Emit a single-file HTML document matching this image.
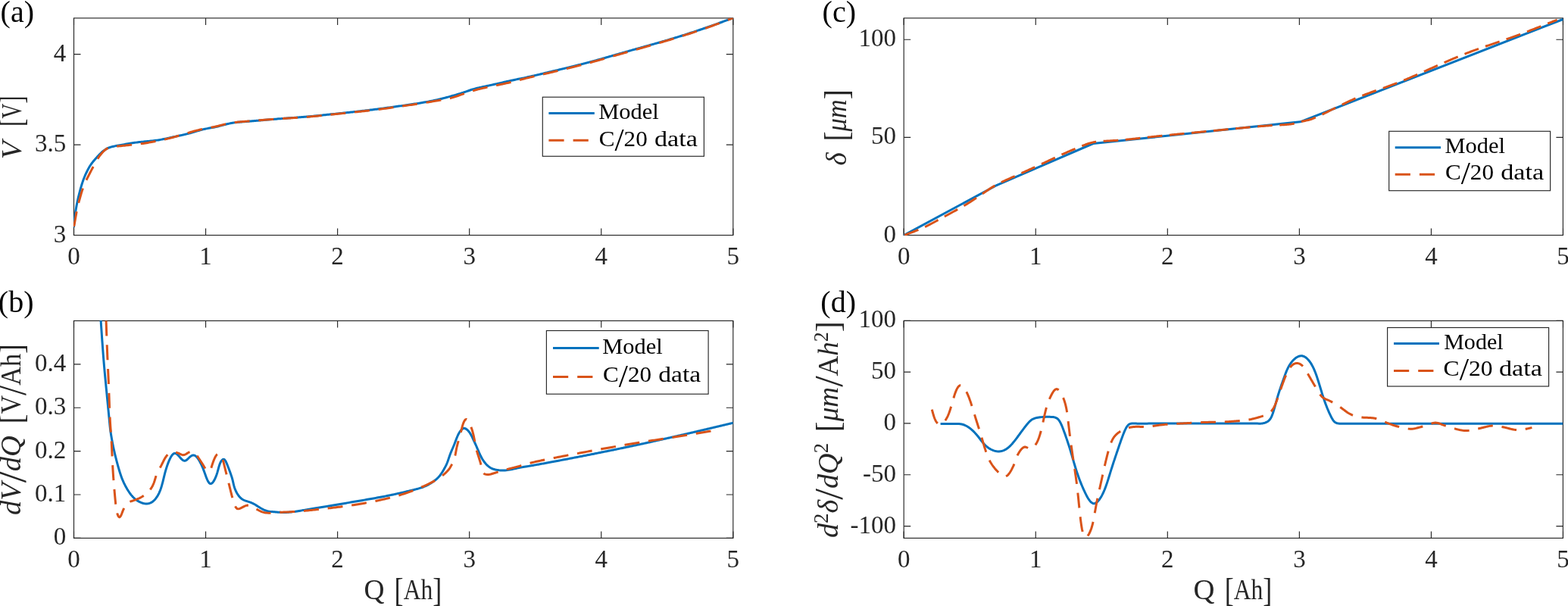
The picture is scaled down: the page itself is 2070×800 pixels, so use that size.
<!DOCTYPE html>
<html><head><meta charset="utf-8"><style>
html,body{margin:0;padding:0;background:#fff;}
svg{display:block;}
text{font-family:'Liberation Serif', 'DejaVu Serif', serif;}
</style></head><body>
<svg width="2070" height="800" viewBox="0 0 2070 800">
<rect width="2070" height="800" fill="#fff"/>
<path d="M97.50,310.50V301.50M97.50,23.90V32.90M271.56,310.50V301.50M271.56,23.90V32.90M445.62,310.50V301.50M445.62,23.90V32.90M619.68,310.50V301.50M619.68,23.90V32.90M793.74,310.50V301.50M793.74,23.90V32.90M967.80,310.50V301.50M967.80,23.90V32.90M97.50,310.50H106.50M967.80,310.50H958.80M97.50,191.08H106.50M967.80,191.08H958.80M97.50,71.67H106.50M967.80,71.67H958.80" stroke="#262626" stroke-width="1.15" fill="none"/>
<rect x="97.5" y="23.9" width="870.3" height="286.6" fill="none" stroke="#262626" stroke-width="1.15"/>
<clipPath id="ca"><rect x="97.0" y="23.4" width="871.3" height="287.6"/></clipPath>
<g clip-path="url(#ca)" fill="none" stroke-width="3.0" stroke-linejoin="round">
<path d="M97.40,300.00 L97.56,298.39 L97.71,296.78 L97.87,295.17 L98.03,293.56 L98.19,291.96 L98.36,290.37 L98.53,288.78 L98.71,287.21 L98.90,285.64 L99.09,284.08 L99.29,282.53 L99.50,281.00 L99.72,279.45 L99.96,277.91 L100.20,276.38 L100.46,274.87 L100.72,273.37 L100.99,271.87 L101.28,270.39 L101.57,268.91 L101.87,267.43 L102.18,265.97 L102.50,264.50 L102.85,262.96 L103.20,261.41 L103.56,259.88 L103.93,258.36 L104.31,256.84 L104.69,255.34 L105.08,253.85 L105.47,252.38 L105.86,250.93 L106.25,249.50 L106.69,247.91 L107.14,246.36 L107.59,244.82 L108.05,243.31 L108.52,241.83 L109.00,240.37 L109.49,238.92 L110.00,237.50 L110.58,235.97 L111.17,234.45 L111.79,232.95 L112.43,231.46 L113.10,229.97 L113.79,228.49 L114.50,227.00 L115.16,225.66 L115.84,224.31 L116.55,222.98 L117.28,221.65 L118.04,220.33 L118.83,219.03 L119.65,217.75 L120.50,216.50 L121.50,215.13 L122.53,213.79 L123.60,212.49 L124.69,211.21 L125.79,209.95 L126.89,208.72 L128.00,207.50 L129.05,206.35 L130.09,205.22 L131.14,204.12 L132.20,203.03 L133.27,201.98 L134.37,200.97 L135.50,200.00 L136.85,198.94 L138.25,197.94 L139.71,197.02 L141.23,196.18 L142.83,195.42 L144.50,194.75 L145.84,194.30 L147.22,193.89 L148.65,193.53 L150.12,193.19 L151.63,192.89 L153.17,192.59 L154.75,192.31 L156.36,192.03 L158.00,191.75 L159.52,191.48 L161.06,191.20 L162.62,190.92 L164.18,190.63 L165.75,190.34 L167.32,190.06 L168.89,189.77 L170.44,189.50 L171.98,189.24 L173.50,188.99 L175.00,188.75 L176.51,188.53 L178.01,188.32 L179.48,188.12 L180.95,187.94 L182.42,187.77 L183.89,187.61 L185.38,187.45 L186.89,187.30 L188.43,187.15 L190.00,187.00 L191.50,186.86 L193.04,186.71 L194.60,186.56 L196.17,186.41 L197.77,186.25 L199.37,186.08 L200.97,185.91 L202.56,185.73 L204.15,185.54 L205.73,185.34 L207.28,185.12 L208.80,184.90 L210.38,184.65 L211.94,184.39 L213.47,184.11 L215.00,183.82 L216.53,183.51 L218.07,183.19 L219.64,182.86 L221.23,182.51 L222.87,182.15 L224.55,181.78 L226.30,181.40 L227.74,181.09 L229.21,180.77 L230.72,180.44 L232.26,180.10 L233.82,179.76 L235.40,179.41 L236.99,179.06 L238.59,178.70 L240.20,178.34 L241.80,177.97 L243.39,177.60 L244.97,177.22 L246.53,176.84 L248.07,176.46 L249.58,176.08 L251.06,175.69 L252.50,175.30 L254.23,174.81 L255.90,174.33 L257.52,173.85 L259.09,173.37 L260.62,172.91 L262.11,172.46 L263.58,172.02 L265.02,171.60 L266.45,171.21 L267.88,170.84 L269.30,170.50 L270.79,170.18 L272.30,169.88 L273.81,169.60 L275.33,169.34 L276.87,169.07 L278.42,168.81 L279.99,168.54 L281.57,168.25 L283.18,167.94 L284.80,167.60 L286.22,167.28 L287.65,166.93 L289.10,166.56 L290.56,166.17 L292.03,165.78 L293.52,165.38 L295.01,164.98 L296.51,164.58 L298.02,164.19 L299.53,163.82 L301.05,163.45 L302.57,163.11 L304.10,162.80 L305.53,162.53 L306.97,162.29 L308.42,162.07 L309.88,161.86 L311.34,161.68 L312.83,161.51 L314.33,161.35 L315.85,161.21 L317.39,161.07 L318.97,160.94 L320.56,160.81 L322.19,160.69 L323.86,160.56 L325.56,160.43 L327.30,160.30 L328.67,160.19 L330.07,160.08 L331.49,159.96 L332.93,159.84 L334.39,159.72 L335.87,159.59 L337.37,159.46 L338.89,159.33 L340.42,159.20 L341.96,159.06 L343.52,158.92 L345.08,158.78 L346.66,158.64 L348.24,158.50 L349.84,158.36 L351.44,158.22 L353.04,158.08 L354.65,157.94 L356.26,157.80 L357.87,157.66 L359.48,157.53 L361.09,157.39 L362.70,157.26 L364.30,157.13 L365.90,157.00 L367.49,156.87 L369.08,156.75 L370.66,156.63 L372.24,156.51 L373.81,156.40 L375.37,156.28 L376.94,156.17 L378.49,156.06 L380.05,155.95 L381.59,155.84 L383.14,155.73 L384.68,155.62 L386.22,155.51 L387.76,155.40 L389.30,155.29 L390.83,155.18 L392.36,155.06 L393.89,154.95 L395.42,154.84 L396.95,154.72 L398.48,154.60 L400.01,154.48 L401.54,154.36 L403.07,154.23 L404.60,154.10 L406.13,153.97 L407.66,153.83 L409.20,153.69 L410.73,153.55 L412.27,153.41 L413.81,153.26 L415.35,153.11 L416.89,152.96 L418.43,152.81 L419.97,152.65 L421.51,152.50 L423.05,152.34 L424.60,152.18 L426.14,152.02 L427.69,151.86 L429.24,151.69 L430.79,151.53 L432.34,151.36 L433.89,151.20 L435.44,151.03 L436.99,150.86 L438.54,150.70 L440.09,150.53 L441.65,150.37 L443.20,150.20 L444.76,150.03 L446.32,149.87 L447.87,149.70 L449.43,149.54 L450.99,149.37 L452.55,149.21 L454.11,149.05 L455.66,148.88 L457.22,148.72 L458.78,148.55 L460.33,148.39 L461.89,148.22 L463.44,148.05 L464.99,147.89 L466.54,147.72 L468.09,147.55 L469.63,147.38 L471.17,147.22 L472.72,147.04 L474.25,146.87 L475.79,146.70 L477.32,146.53 L478.85,146.35 L480.38,146.18 L481.90,146.00 L483.42,145.82 L484.94,145.64 L486.45,145.46 L487.96,145.28 L489.47,145.09 L490.99,144.91 L492.50,144.72 L494.01,144.53 L495.52,144.34 L497.04,144.14 L498.56,143.95 L500.08,143.75 L501.61,143.55 L503.14,143.35 L504.68,143.15 L506.22,142.94 L507.77,142.74 L509.33,142.53 L510.90,142.32 L512.47,142.10 L514.06,141.89 L515.65,141.67 L517.26,141.45 L518.87,141.23 L520.50,141.00 L522.10,140.78 L523.70,140.55 L525.32,140.33 L526.94,140.10 L528.57,139.87 L530.19,139.64 L531.82,139.41 L533.44,139.18 L535.06,138.95 L536.68,138.71 L538.28,138.48 L539.88,138.25 L541.46,138.02 L543.03,137.78 L544.58,137.55 L546.12,137.32 L547.63,137.09 L549.12,136.86 L550.59,136.63 L552.03,136.41 L553.44,136.18 L554.82,135.96 L556.17,135.74 L557.48,135.53 L558.76,135.31 L560.00,135.10 L561.87,134.77 L563.65,134.45 L565.35,134.14 L566.99,133.82 L568.56,133.51 L570.09,133.20 L571.58,132.89 L573.05,132.58 L574.50,132.26 L575.95,131.93 L577.40,131.60 L578.88,131.26 L580.38,130.90 L581.89,130.54 L583.43,130.17 L584.98,129.78 L586.56,129.39 L588.16,128.98 L589.79,128.55 L591.43,128.12 L593.10,127.67 L594.80,127.20 L596.38,126.76 L597.98,126.30 L599.58,125.84 L601.16,125.38 L602.73,124.92 L604.26,124.46 L605.75,124.01 L607.19,123.57 L608.57,123.15 L609.87,122.74 L611.08,122.36 L612.20,122.00 L613.91,121.44 L615.39,120.93 L616.72,120.46 L618.00,120.00 L619.30,119.52 L620.68,119.03 L622.16,118.52 L623.80,118.00 L625.23,117.58 L626.77,117.16 L628.40,116.75 L630.09,116.33 L631.83,115.91 L633.61,115.50 L635.40,115.10 L636.79,114.79 L638.20,114.48 L639.62,114.17 L641.07,113.86 L642.55,113.54 L644.09,113.21 L645.68,112.86 L647.33,112.50 L649.07,112.13 L650.89,111.73 L652.80,111.30 L654.33,110.96 L655.91,110.60 L657.54,110.23 L659.19,109.86 L660.87,109.48 L662.56,109.09 L664.24,108.71 L665.92,108.32 L667.58,107.95 L669.21,107.58 L670.81,107.22 L672.35,106.87 L673.83,106.54 L675.24,106.22 L676.58,105.93 L677.82,105.66 L678.97,105.42 L680.00,105.20 L681.69,104.86 L683.12,104.60 L684.49,104.35 L685.99,104.06 L687.80,103.70 L688.63,103.53 L689.53,103.34 L690.50,103.13 L691.54,102.90 L692.65,102.66 L693.81,102.40 L695.04,102.12 L696.32,101.84 L697.65,101.53 L699.03,101.22 L700.46,100.89 L701.93,100.56 L703.44,100.21 L704.98,99.85 L706.57,99.48 L708.18,99.11 L709.82,98.73 L711.48,98.34 L713.17,97.94 L714.87,97.54 L716.60,97.14 L718.33,96.73 L720.07,96.32 L721.82,95.90 L723.58,95.49 L725.33,95.07 L727.08,94.65 L728.83,94.24 L730.57,93.82 L732.29,93.41 L734.01,93.00 L735.70,92.60 L737.38,92.20 L739.03,91.80 L740.67,91.41 L742.29,91.02 L743.89,90.64 L745.47,90.25 L747.04,89.87 L748.59,89.50 L750.13,89.12 L751.66,88.75 L753.17,88.38 L754.67,88.01 L756.17,87.65 L757.65,87.28 L759.12,86.92 L760.58,86.55 L762.04,86.19 L763.48,85.83 L764.93,85.46 L766.36,85.10 L767.80,84.73 L769.22,84.37 L770.65,84.00 L772.08,83.63 L773.50,83.26 L774.92,82.89 L776.35,82.52 L777.77,82.14 L779.20,81.76 L780.63,81.38 L782.06,80.99 L783.50,80.60 L784.91,80.22 L786.32,79.83 L787.74,79.44 L789.16,79.05 L790.58,78.65 L792.01,78.25 L793.45,77.85 L794.88,77.45 L796.32,77.04 L797.77,76.63 L799.22,76.22 L800.67,75.81 L802.12,75.39 L803.57,74.98 L805.03,74.56 L806.49,74.14 L807.95,73.72 L809.41,73.30 L810.88,72.88 L812.34,72.46 L813.81,72.04 L815.28,71.62 L816.74,71.19 L818.21,70.77 L819.68,70.35 L821.15,69.93 L822.61,69.51 L824.08,69.09 L825.55,68.67 L827.01,68.25 L828.48,67.83 L829.94,67.41 L831.40,67.00 L832.86,66.59 L834.31,66.18 L835.77,65.77 L837.22,65.36 L838.67,64.95 L840.12,64.55 L841.57,64.14 L843.02,63.74 L844.47,63.33 L845.91,62.93 L847.36,62.53 L848.80,62.13 L850.25,61.72 L851.69,61.32 L853.14,60.92 L854.58,60.52 L856.02,60.11 L857.47,59.71 L858.91,59.31 L860.35,58.90 L861.80,58.49 L863.24,58.09 L864.69,57.68 L866.13,57.27 L867.58,56.86 L869.03,56.44 L870.48,56.03 L871.93,55.61 L873.38,55.20 L874.83,54.78 L876.29,54.35 L877.74,53.93 L879.20,53.50 L880.67,53.07 L882.14,52.63 L883.61,52.19 L885.08,51.75 L886.55,51.31 L888.02,50.87 L889.50,50.42 L890.97,49.97 L892.44,49.52 L893.92,49.07 L895.39,48.61 L896.86,48.16 L898.33,47.70 L899.80,47.24 L901.26,46.78 L902.73,46.31 L904.19,45.85 L905.65,45.38 L907.11,44.92 L908.57,44.45 L910.02,43.98 L911.46,43.51 L912.91,43.04 L914.35,42.57 L915.79,42.09 L917.22,41.62 L918.65,41.15 L920.07,40.67 L921.49,40.20 L922.90,39.72 L924.30,39.25 L925.71,38.78 L927.10,38.30 L928.61,37.78 L930.12,37.26 L931.62,36.75 L933.11,36.23 L934.60,35.71 L936.08,35.19 L937.55,34.67 L939.02,34.16 L940.48,33.64 L941.94,33.12 L943.39,32.60 L944.84,32.08 L946.28,31.57 L947.72,31.05 L949.16,30.53 L950.59,30.01 L952.02,29.50 L953.44,28.98 L954.87,28.46 L956.29,27.94 L957.71,27.42 L959.12,26.91 L960.54,26.39 L961.95,25.87 L963.37,25.35 L964.78,24.84 L966.19,24.32 L967.60,23.80" stroke="#0072BD"/>
<path d="M97.60,299.00 L97.86,297.70 L98.13,296.32 L98.43,294.78 L98.75,293.00 L98.97,291.78 L99.19,290.46 L99.44,289.06 L99.69,287.58 L99.96,286.05 L100.24,284.47 L100.53,282.87 L100.82,281.26 L101.12,279.65 L101.43,278.06 L101.75,276.50 L102.09,274.90 L102.43,273.35 L102.78,271.84 L103.14,270.35 L103.51,268.88 L103.89,267.42 L104.27,265.96 L104.67,264.50 L105.08,263.01 L105.50,261.50 L105.92,260.02 L106.35,258.51 L106.79,256.98 L107.25,255.44 L107.71,253.90 L108.19,252.36 L108.68,250.84 L109.18,249.33 L109.69,247.85 L110.22,246.40 L110.75,245.00 L111.35,243.50 L111.96,242.06 L112.59,240.64 L113.24,239.25 L113.90,237.87 L114.58,236.50 L115.28,235.11 L116.00,233.70 L116.75,232.25 L117.45,230.88 L118.18,229.48 L118.91,228.05 L119.66,226.61 L120.42,225.15 L121.18,223.68 L121.95,222.22 L122.72,220.76 L123.49,219.32 L124.25,217.90 L125.00,216.50 L125.81,215.02 L126.62,213.57 L127.42,212.17 L128.23,210.80 L129.04,209.47 L129.87,208.17 L130.72,206.91 L131.60,205.69 L132.50,204.50 L133.55,203.22 L134.62,201.98 L135.72,200.81 L136.81,199.72 L137.90,198.71 L138.97,197.80 L140.00,197.00 L141.36,196.08 L142.74,195.35 L144.25,194.77 L146.00,194.30 L147.22,194.05 L148.54,193.82 L149.96,193.62 L151.46,193.43 L153.01,193.25 L154.60,193.09 L156.21,192.94 L157.83,192.79 L159.43,192.64 L161.00,192.50 L162.63,192.34 L164.22,192.19 L165.78,192.03 L167.31,191.86 L168.83,191.70 L170.34,191.53 L171.87,191.35 L173.42,191.18 L175.00,191.00 L176.51,190.83 L178.05,190.66 L179.60,190.48 L181.16,190.31 L182.71,190.13 L184.25,189.94 L185.76,189.76 L187.22,189.57 L188.64,189.39 L190.00,189.20 L191.75,188.94 L193.40,188.68 L195.01,188.40 L196.62,188.12 L198.27,187.82 L200.00,187.50 L201.33,187.26 L202.72,187.00 L204.17,186.73 L205.68,186.45 L207.24,186.15 L208.85,185.84 L210.50,185.51 L212.20,185.16 L213.93,184.79 L215.70,184.41 L217.50,184.00 L219.04,183.64 L220.59,183.27 L222.15,182.89 L223.72,182.49 L225.29,182.09 L226.86,181.68 L228.43,181.26 L229.99,180.84 L231.53,180.41 L233.06,179.99 L234.57,179.56 L236.05,179.14 L237.50,178.72 L238.92,178.31 L240.30,177.90 L241.92,177.42 L243.49,176.94 L245.01,176.48 L246.49,176.03 L247.94,175.59 L249.37,175.16 L250.78,174.73 L252.19,174.31 L253.59,173.90 L255.00,173.50 L256.55,173.07 L258.11,172.64 L259.68,172.23 L261.27,171.83 L262.86,171.43 L264.46,171.05 L266.07,170.69 L267.68,170.34 L269.30,170.00 L270.81,169.70 L272.32,169.41 L273.84,169.13 L275.36,168.85 L276.89,168.57 L278.44,168.29 L280.00,167.99 L281.58,167.68 L283.18,167.35 L284.80,167.00 L286.21,166.68 L287.65,166.34 L289.09,165.98 L290.55,165.62 L292.02,165.25 L293.51,164.88 L295.00,164.51 L296.50,164.15 L298.01,163.79 L299.53,163.44 L301.05,163.11 L302.57,162.79 L304.10,162.50 L305.54,162.25 L306.98,162.01 L308.43,161.80 L309.88,161.60 L311.35,161.42 L312.83,161.25 L314.34,161.09 L315.86,160.94 L317.40,160.79 L318.97,160.66 L320.57,160.53 L322.20,160.40 L323.86,160.27 L325.56,160.13 L327.30,160.00 L328.67,159.89 L330.07,159.78 L331.49,159.67 L332.93,159.56 L334.39,159.44 L335.87,159.32 L337.37,159.20 L338.88,159.08 L340.41,158.95 L341.95,158.83 L343.51,158.70 L345.08,158.58 L346.65,158.45 L348.24,158.33 L349.83,158.20 L351.43,158.08 L353.04,157.95 L354.65,157.83 L356.26,157.70 L357.87,157.58 L359.48,157.46 L361.09,157.34 L362.70,157.23 L364.30,157.11 L365.90,157.00 L367.49,156.89 L369.08,156.78 L370.66,156.68 L372.24,156.58 L373.81,156.47 L375.38,156.37 L376.94,156.27 L378.50,156.18 L380.05,156.08 L381.60,155.98 L383.15,155.89 L384.69,155.79 L386.23,155.69 L387.77,155.59 L389.30,155.49 L390.84,155.39 L392.37,155.29 L393.90,155.19 L395.43,155.08 L396.96,154.98 L398.49,154.87 L400.01,154.75 L401.54,154.64 L403.07,154.52 L404.60,154.40 L406.13,154.27 L407.66,154.15 L409.19,154.01 L410.73,153.88 L412.26,153.74 L413.80,153.60 L415.34,153.46 L416.87,153.31 L418.41,153.16 L419.95,153.01 L421.49,152.86 L423.04,152.70 L424.58,152.55 L426.13,152.39 L427.67,152.23 L429.22,152.07 L430.77,151.91 L432.32,151.75 L433.87,151.58 L435.42,151.42 L436.97,151.26 L438.53,151.09 L440.08,150.93 L441.64,150.76 L443.20,150.60 L444.76,150.44 L446.33,150.27 L447.89,150.11 L449.45,149.95 L451.02,149.79 L452.58,149.62 L454.15,149.46 L455.71,149.30 L457.27,149.14 L458.84,148.97 L460.40,148.81 L461.95,148.65 L463.51,148.49 L465.06,148.32 L466.61,148.16 L468.16,148.00 L469.70,147.83 L471.24,147.67 L472.78,147.50 L474.31,147.34 L475.84,147.17 L477.36,147.01 L478.88,146.84 L480.39,146.67 L481.90,146.50 L483.40,146.33 L484.90,146.16 L486.39,145.99 L487.88,145.81 L489.37,145.64 L490.85,145.46 L492.34,145.28 L493.83,145.10 L495.33,144.92 L496.82,144.73 L498.33,144.55 L499.83,144.36 L501.35,144.16 L502.87,143.97 L504.41,143.77 L505.95,143.57 L507.50,143.37 L509.07,143.16 L510.65,142.95 L512.25,142.73 L513.87,142.51 L515.50,142.29 L517.14,142.07 L518.81,141.83 L520.50,141.60 L522.02,141.39 L523.56,141.17 L525.11,140.95 L526.68,140.73 L528.25,140.50 L529.84,140.28 L531.43,140.05 L533.02,139.81 L534.62,139.58 L536.23,139.35 L537.83,139.11 L539.43,138.87 L541.03,138.64 L542.63,138.40 L544.22,138.16 L545.80,137.92 L547.37,137.68 L548.93,137.45 L550.48,137.21 L552.02,136.97 L553.54,136.74 L555.04,136.50 L556.52,136.27 L557.98,136.04 L559.42,135.81 L560.84,135.59 L562.23,135.36 L563.59,135.14 L564.93,134.93 L566.23,134.71 L567.50,134.50 L569.40,134.18 L571.22,133.87 L572.97,133.57 L574.65,133.28 L576.26,132.99 L577.81,132.71 L579.30,132.45 L580.73,132.19 L582.12,131.93 L583.45,131.69 L584.74,131.45 L585.99,131.22 L587.20,131.00 L588.88,130.69 L590.51,130.39 L592.12,130.07 L593.73,129.72 L595.37,129.34 L597.05,128.90 L598.80,128.40 L600.35,127.92 L601.95,127.39 L603.56,126.83 L605.17,126.27 L606.74,125.71 L608.25,125.16 L609.68,124.66 L611.01,124.20 L612.20,123.80 L614.05,123.25 L615.68,122.80 L617.40,122.30 L618.55,121.93 L619.82,121.49 L621.21,121.01 L622.70,120.49 L624.30,119.95 L625.99,119.39 L627.76,118.84 L629.60,118.30 L631.14,117.88 L632.71,117.48 L634.30,117.09 L635.91,116.71 L637.52,116.36 L639.12,116.01 L640.71,115.68 L642.28,115.36 L643.81,115.05 L645.30,114.76 L646.73,114.47 L648.10,114.20 L649.68,113.88 L651.18,113.57 L652.63,113.26 L654.07,112.95 L655.53,112.63 L657.03,112.31 L658.61,111.96 L660.30,111.60 L661.78,111.28 L663.34,110.95 L664.95,110.61 L666.60,110.25 L668.27,109.89 L669.93,109.53 L671.58,109.18 L673.18,108.82 L674.72,108.47 L676.19,108.13 L677.55,107.81 L678.80,107.50 L680.35,107.10 L681.73,106.71 L683.06,106.33 L684.44,105.93 L685.99,105.49 L687.80,105.00 L688.69,104.77 L689.64,104.52 L690.66,104.26 L691.74,103.99 L692.88,103.71 L694.08,103.41 L695.33,103.11 L696.63,102.80 L697.97,102.47 L699.36,102.14 L700.80,101.80 L702.27,101.45 L703.78,101.09 L705.32,100.73 L706.89,100.36 L708.50,99.98 L710.12,99.60 L711.77,99.22 L713.44,98.83 L715.13,98.43 L716.83,98.04 L718.54,97.64 L720.27,97.23 L721.99,96.83 L723.72,96.42 L725.46,96.02 L727.19,95.61 L728.91,95.21 L730.63,94.80 L732.33,94.40 L734.02,94.00 L735.70,93.60 L737.36,93.20 L739.00,92.81 L740.62,92.42 L742.23,92.03 L743.82,91.65 L745.40,91.26 L746.96,90.88 L748.51,90.50 L750.04,90.12 L751.57,89.74 L753.08,89.37 L754.58,88.99 L756.07,88.62 L757.55,88.24 L759.03,87.87 L760.49,87.50 L761.95,87.12 L763.40,86.75 L764.85,86.37 L766.29,86.00 L767.73,85.63 L769.16,85.25 L770.60,84.87 L772.03,84.49 L773.46,84.11 L774.89,83.73 L776.32,83.35 L777.75,82.96 L779.18,82.58 L780.62,82.19 L782.06,81.80 L783.50,81.40 L784.91,81.01 L786.33,80.62 L787.75,80.23 L789.17,79.83 L790.60,79.44 L792.03,79.04 L793.47,78.63 L794.91,78.23 L796.35,77.82 L797.79,77.42 L799.24,77.01 L800.69,76.60 L802.15,76.18 L803.60,75.77 L805.06,75.36 L806.52,74.94 L807.98,74.52 L809.44,74.10 L810.90,73.68 L812.37,73.27 L813.83,72.85 L815.30,72.42 L816.76,72.00 L818.23,71.58 L819.69,71.16 L821.16,70.74 L822.63,70.32 L824.09,69.90 L825.56,69.48 L827.02,69.06 L828.48,68.64 L829.94,68.22 L831.40,67.80 L832.86,67.38 L834.31,66.97 L835.77,66.55 L837.22,66.14 L838.67,65.72 L840.12,65.31 L841.57,64.89 L843.01,64.48 L844.46,64.07 L845.91,63.65 L847.35,63.24 L848.80,62.83 L850.24,62.41 L851.68,62.00 L853.13,61.59 L854.57,61.17 L856.01,60.76 L857.46,60.34 L858.90,59.93 L860.35,59.51 L861.79,59.09 L863.24,58.67 L864.68,58.26 L866.13,57.84 L867.58,57.42 L869.02,56.99 L870.47,56.57 L871.92,56.15 L873.38,55.72 L874.83,55.29 L876.29,54.86 L877.74,54.43 L879.20,54.00 L880.67,53.56 L882.14,53.13 L883.61,52.69 L885.08,52.24 L886.55,51.80 L888.02,51.36 L889.50,50.91 L890.97,50.46 L892.44,50.01 L893.92,49.56 L895.39,49.11 L896.86,48.65 L898.33,48.20 L899.80,47.74 L901.27,47.28 L902.73,46.82 L904.20,46.36 L905.66,45.89 L907.11,45.43 L908.57,44.96 L910.02,44.50 L911.47,44.03 L912.91,43.56 L914.35,43.09 L915.79,42.61 L917.22,42.14 L918.65,41.67 L920.07,41.19 L921.49,40.72 L922.90,40.24 L924.31,39.76 L925.71,39.28 L927.10,38.80 L928.62,38.27 L930.12,37.75 L931.62,37.22 L933.12,36.69 L934.60,36.16 L936.08,35.63 L937.56,35.10 L939.03,34.56 L940.49,34.03 L941.95,33.50 L943.40,32.96 L944.85,32.43 L946.29,31.89 L947.73,31.35 L949.17,30.82 L950.60,30.28 L952.03,29.74 L953.45,29.20 L954.87,28.66 L956.30,28.12 L957.71,27.58 L959.13,27.04 L960.54,26.50 L961.96,25.96 L963.37,25.42 L964.78,24.88 L966.19,24.34 L967.60,23.80" stroke="#D95319" stroke-dasharray="20 11.8"/>
</g>
<text x="97.50" y="348.90" text-anchor="middle" font-size="33" fill="#262626">0</text>
<text x="271.56" y="348.90" text-anchor="middle" font-size="33" fill="#262626">1</text>
<text x="445.62" y="348.90" text-anchor="middle" font-size="33" fill="#262626">2</text>
<text x="619.68" y="348.90" text-anchor="middle" font-size="33" fill="#262626">3</text>
<text x="793.74" y="348.90" text-anchor="middle" font-size="33" fill="#262626">4</text>
<text x="967.80" y="348.90" text-anchor="middle" font-size="33" fill="#262626">5</text>
<text x="87.30" y="319.50" text-anchor="end" font-size="33" fill="#262626">3</text>
<text x="87.30" y="200.08" text-anchor="end" font-size="33" fill="#262626">3.5</text>
<text x="87.30" y="80.67" text-anchor="end" font-size="33" fill="#262626">4</text>
<rect x="716.3" y="128.2" width="213.10000000000002" height="78.10000000000002" fill="#fff" stroke="#262626" stroke-width="1.15"/>
<path d="M724.4,149.4H784.8" stroke="#0072BD" stroke-width="3.0"/>
<path d="M724.4,185.3H744.6M756.6,185.3H776.8" stroke="#D95319" stroke-width="3.0"/>
<text x="790.25" y="156.90" font-size="29.5" fill="#000" textLength="79.50" lengthAdjust="spacingAndGlyphs">Model</text>
<text x="790.70" y="192.50" font-size="29.5" fill="#000" textLength="64.05" lengthAdjust="spacingAndGlyphs">C<tspan font-size="41.5" dy="6.1">/</tspan><tspan dy="-6.1">20</tspan></text>
<text x="864.00" y="192.50" font-size="29.5" fill="#000" textLength="57.00" lengthAdjust="spacingAndGlyphs">data</text>
<path d="M1193.20,310.50V301.50M1193.20,23.90V32.90M1367.26,310.50V301.50M1367.26,23.90V32.90M1541.32,310.50V301.50M1541.32,23.90V32.90M1715.38,310.50V301.50M1715.38,23.90V32.90M1889.44,310.50V301.50M1889.44,23.90V32.90M2063.50,310.50V301.50M2063.50,23.90V32.90M1193.20,310.50H1202.20M2063.40,310.50H2054.40M1193.20,181.38H1202.20M2063.40,181.38H2054.40M1193.20,52.25H1202.20M2063.40,52.25H2054.40" stroke="#262626" stroke-width="1.15" fill="none"/>
<rect x="1193.2" y="23.9" width="870.2" height="286.6" fill="none" stroke="#262626" stroke-width="1.15"/>
<clipPath id="cc"><rect x="1192.7" y="23.4" width="871.2" height="287.6"/></clipPath>
<g clip-path="url(#cc)" fill="none" stroke-width="3.0" stroke-linejoin="round">
<path d="M1193.20,310.60 L1314.50,245.20 L1396.60,209.70 L1443.10,189.50 L1520.00,181.50 L1716.60,160.80 L2063.30,25.50" stroke="#0072BD"/>
<path d="M1194.00,310.40 L1195.48,309.84 L1196.96,309.29 L1198.43,308.73 L1199.89,308.18 L1201.35,307.63 L1202.79,307.09 L1204.21,306.55 L1205.62,306.02 L1207.00,305.50 L1208.39,304.97 L1209.77,304.45 L1211.16,303.91 L1212.57,303.35 L1214.01,302.76 L1215.49,302.13 L1217.05,301.45 L1218.68,300.71 L1220.40,299.90 L1221.54,299.35 L1222.72,298.77 L1223.94,298.16 L1225.19,297.52 L1226.47,296.86 L1227.79,296.17 L1229.13,295.47 L1230.50,294.75 L1231.89,294.01 L1233.30,293.25 L1234.72,292.48 L1236.16,291.70 L1237.61,290.91 L1239.08,290.12 L1240.54,289.31 L1242.02,288.51 L1243.49,287.70 L1244.97,286.89 L1246.44,286.09 L1247.90,285.28 L1249.36,284.49 L1250.80,283.70 L1252.18,282.95 L1253.54,282.21 L1254.90,281.47 L1256.24,280.74 L1257.58,280.01 L1258.91,279.29 L1260.23,278.57 L1261.54,277.85 L1262.85,277.13 L1264.15,276.41 L1265.45,275.68 L1266.75,274.96 L1268.05,274.22 L1269.34,273.49 L1270.64,272.74 L1271.93,271.99 L1273.23,271.23 L1274.53,270.46 L1275.83,269.67 L1277.14,268.88 L1278.45,268.07 L1279.77,267.24 L1281.10,266.40 L1282.41,265.56 L1283.72,264.71 L1285.04,263.84 L1286.37,262.96 L1287.69,262.07 L1289.02,261.18 L1290.35,260.28 L1291.67,259.38 L1292.99,258.48 L1294.31,257.58 L1295.62,256.69 L1296.92,255.80 L1298.22,254.91 L1299.51,254.03 L1300.78,253.17 L1302.04,252.32 L1303.29,251.48 L1304.52,250.66 L1305.73,249.86 L1306.93,249.08 L1308.10,248.32 L1309.26,247.59 L1310.39,246.88 L1311.50,246.20 L1312.86,245.39 L1314.19,244.62 L1315.50,243.88 L1316.79,243.18 L1318.06,242.51 L1319.33,241.86 L1320.61,241.22 L1321.90,240.60 L1323.20,239.98 L1324.53,239.36 L1325.89,238.74 L1327.29,238.11 L1328.74,237.46 L1330.24,236.79 L1331.80,236.10 L1332.97,235.58 L1334.18,235.04 L1335.42,234.49 L1336.69,233.93 L1337.98,233.35 L1339.31,232.76 L1340.65,232.16 L1342.02,231.55 L1343.41,230.92 L1344.82,230.29 L1346.24,229.66 L1347.67,229.01 L1349.12,228.36 L1350.58,227.70 L1352.05,227.04 L1353.52,226.38 L1355.00,225.71 L1356.47,225.04 L1357.95,224.37 L1359.43,223.70 L1360.90,223.03 L1362.37,222.36 L1363.83,221.70 L1365.28,221.04 L1366.71,220.38 L1368.13,219.72 L1369.54,219.08 L1370.93,218.43 L1372.30,217.80 L1373.84,217.09 L1375.35,216.38 L1376.84,215.69 L1378.30,215.00 L1379.74,214.32 L1381.17,213.66 L1382.57,213.00 L1383.96,212.34 L1385.33,211.70 L1386.69,211.06 L1388.03,210.42 L1389.37,209.80 L1390.70,209.17 L1392.03,208.55 L1393.35,207.94 L1394.66,207.33 L1395.98,206.72 L1397.29,206.11 L1398.61,205.51 L1399.94,204.90 L1401.26,204.30 L1402.60,203.70 L1404.04,203.05 L1405.49,202.41 L1406.95,201.77 L1408.41,201.13 L1409.87,200.49 L1411.33,199.86 L1412.78,199.23 L1414.23,198.61 L1415.67,198.00 L1417.10,197.40 L1418.51,196.80 L1419.90,196.22 L1421.28,195.65 L1422.64,195.09 L1423.97,194.54 L1425.27,194.01 L1426.55,193.49 L1427.79,192.99 L1429.00,192.50 L1430.55,191.88 L1432.05,191.30 L1433.51,190.74 L1434.95,190.22 L1436.36,189.73 L1437.77,189.28 L1439.19,188.85 L1440.63,188.46 L1442.11,188.11 L1443.63,187.79 L1445.20,187.50 L1446.49,187.30 L1447.82,187.11 L1449.20,186.95 L1450.61,186.80 L1452.06,186.67 L1453.54,186.54 L1455.05,186.43 L1456.60,186.33 L1458.18,186.23 L1459.79,186.14 L1461.42,186.06 L1463.08,185.97 L1464.77,185.89 L1466.48,185.80 L1468.20,185.71 L1469.95,185.62 L1471.72,185.51 L1473.50,185.40 L1474.84,185.31 L1476.18,185.21 L1477.54,185.11 L1478.90,185.00 L1480.28,184.89 L1481.66,184.77 L1483.05,184.65 L1484.45,184.52 L1485.86,184.39 L1487.29,184.25 L1488.72,184.11 L1490.16,183.96 L1491.62,183.81 L1493.09,183.66 L1494.56,183.50 L1496.05,183.35 L1497.56,183.18 L1499.07,183.02 L1500.60,182.85 L1502.14,182.68 L1503.69,182.51 L1505.26,182.33 L1506.84,182.16 L1508.43,181.98 L1510.04,181.80 L1511.66,181.62 L1513.30,181.44 L1514.95,181.25 L1516.62,181.07 L1518.30,180.88 L1520.00,180.70 L1521.31,180.56 L1522.63,180.42 L1523.96,180.28 L1525.30,180.13 L1526.65,179.99 L1528.00,179.85 L1529.37,179.71 L1530.74,179.57 L1532.12,179.42 L1533.51,179.28 L1534.91,179.14 L1536.31,178.99 L1537.73,178.85 L1539.15,178.71 L1540.58,178.56 L1542.02,178.42 L1543.46,178.28 L1544.92,178.13 L1546.38,177.99 L1547.84,177.84 L1549.32,177.70 L1550.80,177.55 L1552.29,177.40 L1553.78,177.26 L1555.29,177.11 L1556.80,176.96 L1558.31,176.81 L1559.84,176.67 L1561.36,176.52 L1562.90,176.37 L1564.44,176.22 L1565.99,176.07 L1567.54,175.92 L1569.10,175.77 L1570.66,175.62 L1572.24,175.47 L1573.81,175.31 L1575.39,175.16 L1576.98,175.01 L1578.57,174.85 L1580.17,174.70 L1581.77,174.54 L1583.38,174.39 L1584.99,174.23 L1586.61,174.08 L1588.23,173.92 L1589.86,173.76 L1591.49,173.60 L1593.12,173.44 L1594.76,173.28 L1596.40,173.12 L1598.05,172.96 L1599.70,172.80 L1601.36,172.64 L1603.02,172.47 L1604.69,172.31 L1606.36,172.14 L1608.03,171.98 L1609.70,171.81 L1611.37,171.65 L1613.04,171.48 L1614.72,171.32 L1616.39,171.15 L1618.06,170.99 L1619.73,170.82 L1621.39,170.66 L1623.05,170.49 L1624.71,170.33 L1626.37,170.17 L1628.02,170.01 L1629.66,169.85 L1631.30,169.69 L1632.94,169.53 L1634.56,169.37 L1636.18,169.21 L1637.79,169.06 L1639.40,168.90 L1640.99,168.75 L1642.58,168.60 L1644.16,168.45 L1645.72,168.31 L1647.28,168.16 L1648.82,168.02 L1650.35,167.88 L1651.87,167.74 L1653.38,167.60 L1654.87,167.47 L1656.35,167.34 L1657.82,167.21 L1659.27,167.08 L1660.70,166.96 L1662.12,166.84 L1663.52,166.72 L1664.90,166.60 L1666.27,166.49 L1667.62,166.38 L1668.95,166.28 L1670.26,166.18 L1671.55,166.08 L1672.83,165.99 L1674.08,165.89 L1675.31,165.81 L1676.51,165.72 L1677.70,165.65 L1678.86,165.57 L1680.00,165.50 L1681.96,165.38 L1683.85,165.28 L1685.67,165.18 L1687.43,165.10 L1689.13,165.01 L1690.77,164.93 L1692.35,164.85 L1693.89,164.76 L1695.37,164.67 L1696.82,164.57 L1698.22,164.47 L1699.59,164.35 L1700.92,164.21 L1702.23,164.07 L1703.51,163.90 L1704.76,163.71 L1706.00,163.50 L1707.71,163.16 L1709.39,162.79 L1711.03,162.38 L1712.63,161.96 L1714.20,161.54 L1715.72,161.12 L1717.19,160.71 L1718.62,160.34 L1720.00,160.00 L1721.42,159.69 L1722.81,159.41 L1724.21,159.13 L1725.65,158.82 L1727.16,158.46 L1728.79,158.03 L1730.56,157.48 L1732.50,156.80 L1733.42,156.45 L1734.37,156.08 L1735.36,155.67 L1736.39,155.24 L1737.45,154.78 L1738.55,154.29 L1739.68,153.79 L1740.84,153.25 L1742.04,152.70 L1743.26,152.13 L1744.51,151.53 L1745.78,150.92 L1747.08,150.29 L1748.41,149.64 L1749.76,148.98 L1751.13,148.31 L1752.52,147.62 L1753.93,146.92 L1755.35,146.21 L1756.80,145.49 L1758.25,144.77 L1759.73,144.03 L1761.21,143.29 L1762.71,142.55 L1764.22,141.80 L1765.73,141.05 L1767.26,140.30 L1768.79,139.55 L1770.32,138.80 L1771.86,138.05 L1773.41,137.30 L1774.95,136.56 L1776.49,135.83 L1778.04,135.10 L1779.58,134.38 L1781.12,133.67 L1782.65,132.97 L1784.18,132.28 L1785.70,131.60 L1787.26,130.91 L1788.82,130.24 L1790.37,129.58 L1791.90,128.94 L1793.43,128.30 L1794.96,127.68 L1796.47,127.08 L1797.97,126.48 L1799.47,125.89 L1800.96,125.31 L1802.44,124.74 L1803.92,124.19 L1805.39,123.64 L1806.85,123.09 L1808.30,122.56 L1809.75,122.03 L1811.19,121.51 L1812.62,121.00 L1814.05,120.49 L1815.47,119.98 L1816.88,119.48 L1818.29,118.99 L1819.69,118.50 L1821.09,118.01 L1822.48,117.52 L1823.87,117.04 L1825.25,116.55 L1826.62,116.07 L1828.00,115.59 L1829.36,115.11 L1830.72,114.63 L1832.08,114.15 L1833.43,113.66 L1834.78,113.18 L1836.12,112.69 L1837.46,112.20 L1838.80,111.70 L1840.20,111.17 L1841.61,110.64 L1843.00,110.11 L1844.40,109.57 L1845.79,109.02 L1847.18,108.48 L1848.57,107.92 L1849.95,107.37 L1851.34,106.81 L1852.72,106.24 L1854.10,105.67 L1855.48,105.10 L1856.87,104.52 L1858.25,103.94 L1859.63,103.36 L1861.01,102.77 L1862.40,102.18 L1863.79,101.58 L1865.17,100.98 L1866.56,100.38 L1867.96,99.77 L1869.35,99.16 L1870.75,98.54 L1872.16,97.92 L1873.56,97.30 L1874.97,96.67 L1876.39,96.05 L1877.81,95.41 L1879.24,94.78 L1880.67,94.14 L1882.11,93.50 L1883.55,92.85 L1885.00,92.20 L1886.35,91.60 L1887.70,90.99 L1889.05,90.38 L1890.42,89.78 L1891.78,89.16 L1893.16,88.55 L1894.53,87.94 L1895.92,87.32 L1897.30,86.70 L1898.69,86.09 L1900.09,85.47 L1901.49,84.85 L1902.89,84.23 L1904.29,83.61 L1905.70,82.99 L1907.11,82.38 L1908.53,81.76 L1909.95,81.14 L1911.37,80.53 L1912.79,79.91 L1914.21,79.30 L1915.64,78.69 L1917.07,78.08 L1918.50,77.48 L1919.93,76.87 L1921.36,76.27 L1922.79,75.67 L1924.23,75.08 L1925.66,74.49 L1927.10,73.90 L1928.53,73.32 L1929.97,72.73 L1931.40,72.16 L1932.84,71.59 L1934.27,71.02 L1935.70,70.46 L1937.14,69.90 L1938.57,69.35 L1940.00,68.80 L1941.45,68.25 L1942.89,67.71 L1944.34,67.17 L1945.78,66.64 L1947.23,66.11 L1948.67,65.59 L1950.11,65.07 L1951.55,64.55 L1952.99,64.04 L1954.43,63.53 L1955.87,63.03 L1957.31,62.53 L1958.75,62.03 L1960.19,61.53 L1961.63,61.04 L1963.06,60.54 L1964.50,60.05 L1965.94,59.56 L1967.38,59.07 L1968.83,58.58 L1970.27,58.09 L1971.71,57.61 L1973.15,57.12 L1974.60,56.63 L1976.04,56.14 L1977.49,55.65 L1978.94,55.16 L1980.39,54.67 L1981.84,54.17 L1983.29,53.68 L1984.75,53.18 L1986.21,52.68 L1987.67,52.17 L1989.13,51.66 L1990.59,51.15 L1992.06,50.64 L1993.53,50.12 L1995.00,49.60 L1996.38,49.11 L1997.75,48.61 L1999.13,48.12 L2000.52,47.61 L2001.90,47.11 L2003.29,46.60 L2004.68,46.09 L2006.07,45.57 L2007.46,45.05 L2008.86,44.53 L2010.26,44.01 L2011.65,43.48 L2013.05,42.95 L2014.46,42.42 L2015.86,41.88 L2017.27,41.34 L2018.67,40.80 L2020.08,40.26 L2021.49,39.72 L2022.90,39.17 L2024.31,38.62 L2025.73,38.07 L2027.14,37.51 L2028.56,36.96 L2029.98,36.40 L2031.39,35.85 L2032.81,35.29 L2034.23,34.73 L2035.65,34.16 L2037.07,33.60 L2038.50,33.03 L2039.92,32.47 L2041.34,31.90 L2042.77,31.33 L2044.19,30.77 L2045.62,30.20 L2047.04,29.63 L2048.47,29.06 L2049.89,28.49 L2051.32,27.91 L2052.75,27.34 L2054.17,26.77 L2055.60,26.20" stroke="#D95319" stroke-dasharray="19.7 9.5"/>
</g>
<text x="1193.20" y="348.90" text-anchor="middle" font-size="33" fill="#262626">0</text>
<text x="1367.26" y="348.90" text-anchor="middle" font-size="33" fill="#262626">1</text>
<text x="1541.32" y="348.90" text-anchor="middle" font-size="33" fill="#262626">2</text>
<text x="1715.38" y="348.90" text-anchor="middle" font-size="33" fill="#262626">3</text>
<text x="1889.44" y="348.90" text-anchor="middle" font-size="33" fill="#262626">4</text>
<text x="2063.50" y="348.90" text-anchor="middle" font-size="33" fill="#262626">5</text>
<text x="1183.00" y="319.50" text-anchor="end" font-size="33" fill="#262626">0</text>
<text x="1183.00" y="190.38" text-anchor="end" font-size="33" fill="#262626">50</text>
<text x="1183.00" y="61.25" text-anchor="end" font-size="33" fill="#262626">100</text>
<rect x="1833.7" y="173.3" width="212.89999999999986" height="78.39999999999998" fill="#fff" stroke="#262626" stroke-width="1.15"/>
<path d="M1841.7,194.7H1902.0" stroke="#0072BD" stroke-width="3.0"/>
<path d="M1841.7,230.3H1861.9M1873.9,230.3H1894.1000000000001" stroke="#D95319" stroke-width="3.0"/>
<text x="1907.45" y="201.80" font-size="29.5" fill="#000" textLength="79.50" lengthAdjust="spacingAndGlyphs">Model</text>
<text x="1907.90" y="236.90" font-size="29.5" fill="#000" textLength="64.05" lengthAdjust="spacingAndGlyphs">C<tspan font-size="41.5" dy="6.1">/</tspan><tspan dy="-6.1">20</tspan></text>
<text x="1981.20" y="236.90" font-size="29.5" fill="#000" textLength="57.00" lengthAdjust="spacingAndGlyphs">data</text>
<path d="M97.50,710.40V701.40M97.50,423.50V432.50M271.56,710.40V701.40M271.56,423.50V432.50M445.62,710.40V701.40M445.62,423.50V432.50M619.68,710.40V701.40M619.68,423.50V432.50M793.74,710.40V701.40M793.74,423.50V432.50M967.80,710.40V701.40M967.80,423.50V432.50M97.50,710.40H106.50M967.80,710.40H958.80M97.50,653.02H106.50M967.80,653.02H958.80M97.50,595.64H106.50M967.80,595.64H958.80M97.50,538.26H106.50M967.80,538.26H958.80M97.50,480.88H106.50M967.80,480.88H958.80" stroke="#262626" stroke-width="1.15" fill="none"/>
<rect x="97.5" y="423.5" width="870.3" height="286.9" fill="none" stroke="#262626" stroke-width="1.15"/>
<clipPath id="cb"><rect x="97.0" y="423.0" width="871.3" height="287.9"/></clipPath>
<g clip-path="url(#cb)" fill="none" stroke-width="3.0" stroke-linejoin="round">
<path d="M133.10,423.20 L133.21,424.82 L133.32,426.44 L133.43,428.05 L133.53,429.67 L133.64,431.28 L133.75,432.89 L133.86,434.50 L133.97,436.11 L134.08,437.71 L134.19,439.31 L134.30,440.90 L134.40,442.49 L134.51,444.07 L134.62,445.65 L134.73,447.22 L134.84,448.78 L134.95,450.34 L135.06,451.89 L135.17,453.43 L135.28,454.96 L135.39,456.48 L135.50,458.00 L135.61,459.50 L135.72,460.99 L135.83,462.47 L135.94,463.94 L136.05,465.40 L136.16,466.85 L136.27,468.28 L136.38,469.70 L136.49,471.11 L136.60,472.50 L136.73,474.06 L136.85,475.60 L136.98,477.13 L137.11,478.64 L137.23,480.15 L137.36,481.64 L137.49,483.13 L137.62,484.61 L137.75,486.09 L137.89,487.57 L138.02,489.05 L138.15,490.54 L138.29,492.03 L138.43,493.52 L138.57,495.03 L138.71,496.54 L138.86,498.07 L139.00,499.61 L139.15,501.17 L139.30,502.75 L139.46,504.35 L139.61,505.98 L139.77,507.62 L139.94,509.30 L140.10,511.00 L140.25,512.57 L140.41,514.16 L140.56,515.77 L140.72,517.40 L140.88,519.04 L141.04,520.69 L141.20,522.36 L141.36,524.02 L141.52,525.69 L141.69,527.36 L141.85,529.03 L142.01,530.69 L142.17,532.35 L142.33,533.99 L142.49,535.62 L142.64,537.23 L142.80,538.82 L142.95,540.39 L143.10,541.94 L143.24,543.46 L143.39,544.95 L143.53,546.40 L143.67,547.82 L143.80,549.20 L143.93,550.54 L144.05,551.83 L144.17,553.07 L144.29,554.27 L144.40,555.41 L144.50,556.50 L144.68,558.33 L144.84,560.00 L144.99,561.55 L145.14,563.00 L145.29,564.39 L145.44,565.75 L145.61,567.12 L145.79,568.52 L146.00,570.00 L146.19,571.29 L146.40,572.64 L146.62,574.06 L146.86,575.53 L147.12,577.04 L147.39,578.60 L147.67,580.20 L147.97,581.83 L148.28,583.49 L148.60,585.17 L148.94,586.87 L149.28,588.58 L149.64,590.29 L150.00,592.00 L150.34,593.57 L150.69,595.14 L151.05,596.70 L151.41,598.25 L151.77,599.79 L152.14,601.33 L152.52,602.86 L152.90,604.37 L153.28,605.87 L153.66,607.37 L154.05,608.84 L154.44,610.31 L154.83,611.75 L155.22,613.19 L155.61,614.60 L156.00,616.00 L156.46,617.61 L156.91,619.19 L157.37,620.76 L157.84,622.30 L158.31,623.82 L158.79,625.32 L159.29,626.80 L159.80,628.27 L160.32,629.72 L160.86,631.16 L161.42,632.59 L162.00,634.00 L162.62,635.45 L163.27,636.89 L163.95,638.31 L164.64,639.71 L165.35,641.10 L166.09,642.48 L166.84,643.83 L167.61,645.16 L168.39,646.46 L169.19,647.74 L170.00,649.00 L170.94,650.40 L171.91,651.76 L172.91,653.08 L173.95,654.36 L175.04,655.59 L176.18,656.77 L177.38,657.90 L178.65,658.98 L180.00,660.00 L181.43,660.96 L182.93,661.85 L184.48,662.66 L186.07,663.37 L187.68,663.97 L189.30,664.44 L190.90,664.78 L192.47,664.97 L194.00,665.00 L195.64,664.83 L197.20,664.46 L198.69,663.89 L200.12,663.15 L201.48,662.25 L202.77,661.19 L204.00,660.00 L204.99,658.90 L205.93,657.72 L206.84,656.47 L207.70,655.14 L208.52,653.75 L209.30,652.29 L210.04,650.79 L210.73,649.23 L211.39,647.64 L212.00,646.00 L212.47,644.63 L212.92,643.25 L213.35,641.84 L213.76,640.42 L214.15,638.98 L214.53,637.53 L214.91,636.06 L215.27,634.58 L215.63,633.09 L216.00,631.58 L216.36,630.07 L216.73,628.55 L217.11,627.03 L217.50,625.50 L217.91,623.97 L218.33,622.43 L218.76,620.90 L219.21,619.38 L219.67,617.87 L220.15,616.37 L220.64,614.89 L221.15,613.44 L221.67,612.01 L222.21,610.61 L222.76,609.25 L223.33,607.92 L223.91,606.64 L224.50,605.40 L225.44,603.60 L226.42,601.97 L227.42,600.58 L228.46,599.48 L229.52,598.73 L230.60,598.40 L231.79,598.55 L233.01,599.15 L234.24,600.11 L235.49,601.34 L236.75,602.75 L238.13,604.37 L239.53,605.91 L240.93,607.20 L242.33,608.09 L243.75,608.40 L245.15,608.03 L246.56,607.13 L247.96,605.90 L249.36,604.52 L250.75,603.20 L252.18,602.06 L253.60,601.26 L255.01,600.89 L256.40,601.00 L257.56,601.52 L258.71,602.37 L259.84,603.51 L260.93,604.87 L261.99,606.38 L263.00,608.00 L263.70,609.21 L264.38,610.45 L265.04,611.73 L265.68,613.04 L266.31,614.39 L266.92,615.80 L267.53,617.25 L268.14,618.77 L268.75,620.36 L269.37,622.02 L270.00,623.75 L270.63,625.54 L271.28,627.36 L271.95,629.19 L272.63,630.96 L273.32,632.65 L274.04,634.22 L274.77,635.60 L275.52,636.78 L276.29,637.70 L277.09,638.32 L277.90,638.60 L278.82,638.48 L279.76,637.95 L280.70,637.06 L281.64,635.86 L282.55,634.42 L283.43,632.78 L284.26,631.00 L285.04,629.14 L285.75,627.25 L286.34,625.52 L286.87,623.83 L287.35,622.16 L287.80,620.53 L288.23,618.94 L288.65,617.40 L289.07,615.91 L289.50,614.49 L289.96,613.12 L290.46,611.82 L291.00,610.60 L292.00,608.79 L293.11,607.36 L294.26,606.46 L295.40,606.25 L296.33,606.71 L297.22,607.70 L298.08,609.11 L298.92,610.87 L299.76,612.86 L300.60,615.00 L301.17,616.48 L301.75,617.98 L302.33,619.48 L302.90,620.99 L303.45,622.50 L304.00,624.00 L304.53,625.48 L305.03,626.95 L305.51,628.39 L305.96,629.80 L306.38,631.17 L306.75,632.50 L307.19,634.21 L307.58,635.84 L307.93,637.42 L308.28,638.96 L308.64,640.47 L309.04,641.98 L309.50,643.50 L310.05,645.07 L310.68,646.64 L311.38,648.21 L312.15,649.75 L312.97,651.24 L313.84,652.66 L314.75,654.00 L315.72,655.27 L316.73,656.43 L317.81,657.48 L318.95,658.42 L320.18,659.27 L321.50,660.00 L322.86,660.61 L324.29,661.15 L325.79,661.64 L327.32,662.13 L328.89,662.62 L330.45,663.15 L332.00,663.75 L333.39,664.37 L334.75,665.05 L336.09,665.78 L337.40,666.55 L338.70,667.35 L339.98,668.15 L341.25,668.96 L342.50,669.75 L344.01,670.68 L345.51,671.55 L347.01,672.35 L348.50,673.08 L350.00,673.72 L351.50,674.25 L353.00,674.67 L354.53,674.99 L356.11,675.24 L357.74,675.44 L359.45,675.60 L361.25,675.75 L362.60,675.86 L363.99,675.97 L365.44,676.08 L366.92,676.18 L368.44,676.27 L370.00,676.35 L371.58,676.41 L373.19,676.45 L374.81,676.46 L376.45,676.45 L378.10,676.40 L379.59,676.33 L381.08,676.23 L382.59,676.11 L384.10,675.96 L385.62,675.79 L387.15,675.60 L388.70,675.39 L390.26,675.17 L391.84,674.94 L393.43,674.69 L395.04,674.43 L396.67,674.16 L398.33,673.88 L400.00,673.60 L401.36,673.37 L402.73,673.14 L404.11,672.91 L405.51,672.68 L406.92,672.44 L408.35,672.20 L409.79,671.96 L411.25,671.72 L412.72,671.48 L414.20,671.23 L415.70,670.98 L417.20,670.74 L418.72,670.48 L420.25,670.23 L421.80,669.97 L423.35,669.72 L424.92,669.46 L426.50,669.20 L428.09,668.93 L429.69,668.67 L431.30,668.40 L432.75,668.16 L434.20,667.92 L435.66,667.68 L437.13,667.43 L438.61,667.19 L440.09,666.94 L441.58,666.69 L443.08,666.44 L444.58,666.19 L446.09,665.94 L447.61,665.69 L449.13,665.43 L450.66,665.18 L452.19,664.92 L453.73,664.67 L455.27,664.41 L456.82,664.15 L458.37,663.89 L459.93,663.63 L461.49,663.36 L463.05,663.10 L464.62,662.84 L466.19,662.57 L467.76,662.30 L469.34,662.04 L470.92,661.77 L472.50,661.50 L474.09,661.23 L475.68,660.96 L477.27,660.69 L478.86,660.41 L480.44,660.14 L482.03,659.87 L483.62,659.59 L485.20,659.32 L486.78,659.04 L488.36,658.77 L489.93,658.49 L491.49,658.21 L493.05,657.93 L494.60,657.65 L496.14,657.38 L497.68,657.10 L499.20,656.82 L500.72,656.54 L502.23,656.26 L503.72,655.97 L505.20,655.69 L506.67,655.41 L508.13,655.13 L509.57,654.85 L510.99,654.57 L512.41,654.28 L513.80,654.00 L515.49,653.65 L517.16,653.30 L518.80,652.96 L520.42,652.61 L522.02,652.26 L523.60,651.91 L525.16,651.56 L526.70,651.22 L528.22,650.87 L529.73,650.53 L531.22,650.18 L532.69,649.84 L534.15,649.50 L535.60,649.15 L537.04,648.81 L538.47,648.47 L539.89,648.14 L541.30,647.80 L542.87,647.42 L544.44,647.05 L545.99,646.67 L547.53,646.28 L549.06,645.89 L550.56,645.49 L552.06,645.07 L553.53,644.64 L554.98,644.19 L556.41,643.73 L557.82,643.23 L559.21,642.72 L560.57,642.17 L561.90,641.60 L563.44,640.88 L564.94,640.12 L566.40,639.33 L567.80,638.51 L569.16,637.68 L570.45,636.84 L571.69,635.99 L572.86,635.15 L573.96,634.32 L575.00,633.50 L576.41,632.33 L577.68,631.18 L578.85,630.01 L579.95,628.80 L581.00,627.50 L581.92,626.25 L582.83,624.93 L583.72,623.55 L584.59,622.13 L585.43,620.69 L586.25,619.25 L587.04,617.83 L587.79,616.40 L588.52,614.97 L589.21,613.52 L589.87,612.03 L590.50,610.50 L591.07,609.00 L591.61,607.46 L592.15,605.88 L592.69,604.28 L593.24,602.66 L593.80,601.03 L594.40,599.40 L594.98,597.92 L595.58,596.44 L596.21,594.96 L596.85,593.48 L597.49,592.00 L598.14,590.51 L598.78,589.01 L599.40,587.50 L599.99,586.03 L600.56,584.55 L601.11,583.08 L601.65,581.63 L602.19,580.21 L602.71,578.83 L603.23,577.51 L603.75,576.25 L604.42,574.74 L605.11,573.32 L605.84,571.98 L606.63,570.68 L607.50,569.40 L608.61,567.96 L609.83,566.68 L611.14,565.73 L612.50,565.30 L614.24,565.63 L615.94,566.68 L617.50,568.10 L618.57,569.27 L619.53,570.47 L620.41,571.73 L621.25,573.10 L622.01,574.47 L622.76,575.93 L623.51,577.45 L624.26,579.02 L625.00,580.60 L625.77,582.24 L626.53,583.87 L627.29,585.49 L628.03,587.12 L628.75,588.75 L629.35,590.15 L629.95,591.56 L630.56,592.99 L631.18,594.45 L631.82,595.95 L632.50,597.50 L633.14,598.90 L633.81,600.34 L634.52,601.80 L635.28,603.27 L636.08,604.73 L636.92,606.18 L637.81,607.61 L638.75,609.00 L639.70,610.30 L640.70,611.54 L641.74,612.73 L642.82,613.84 L643.94,614.89 L645.09,615.85 L646.28,616.72 L647.50,617.50 L649.05,618.32 L650.65,619.00 L652.29,619.55 L653.98,619.99 L655.72,620.34 L657.50,620.60 L659.00,620.77 L660.52,620.89 L662.07,620.96 L663.64,620.99 L665.22,620.97 L666.81,620.90 L668.40,620.77 L670.00,620.60 L671.61,620.37 L673.21,620.10 L674.80,619.80 L676.38,619.46 L677.94,619.12 L679.48,618.77 L681.00,618.43 L682.50,618.10 L683.77,617.84 L685.03,617.59 L686.32,617.34 L687.66,617.10 L689.06,616.86 L690.54,616.60 L692.13,616.34 L693.85,616.05 L695.72,615.73 L697.77,615.38 L700.00,615.00 L700.82,614.86 L701.67,614.71 L702.55,614.56 L703.45,614.40 L704.37,614.24 L705.32,614.07 L706.29,613.89 L707.28,613.72 L708.30,613.54 L709.34,613.35 L710.40,613.16 L711.48,612.96 L712.59,612.76 L713.71,612.56 L714.86,612.35 L716.02,612.14 L717.21,611.92 L718.42,611.70 L719.64,611.47 L720.89,611.24 L722.15,611.01 L723.43,610.77 L724.73,610.53 L726.05,610.29 L727.38,610.04 L728.73,609.79 L730.10,609.53 L731.49,609.27 L732.88,609.01 L734.30,608.74 L735.73,608.47 L737.17,608.20 L738.63,607.93 L740.10,607.65 L741.59,607.37 L743.09,607.08 L744.60,606.79 L746.13,606.50 L747.66,606.21 L749.21,605.91 L750.77,605.61 L752.34,605.31 L753.92,605.01 L755.52,604.70 L757.12,604.39 L758.73,604.08 L760.35,603.77 L761.98,603.45 L763.62,603.13 L765.27,602.81 L766.92,602.49 L768.58,602.16 L770.25,601.84 L771.93,601.51 L773.61,601.18 L775.30,600.84 L776.99,600.51 L778.69,600.17 L780.40,599.84 L782.11,599.50 L783.82,599.16 L785.54,598.82 L787.26,598.47 L788.98,598.13 L790.71,597.78 L792.44,597.44 L794.17,597.09 L795.90,596.74 L797.64,596.39 L799.38,596.04 L801.11,595.68 L802.85,595.33 L804.59,594.98 L806.32,594.62 L808.06,594.27 L809.79,593.91 L811.53,593.56 L813.26,593.20 L814.99,592.85 L816.72,592.49 L818.44,592.13 L820.16,591.77 L821.88,591.42 L823.59,591.06 L825.30,590.70 L826.90,590.36 L828.49,590.03 L830.08,589.69 L831.66,589.36 L833.25,589.02 L834.82,588.69 L836.40,588.35 L837.97,588.02 L839.53,587.68 L841.10,587.35 L842.65,587.01 L844.21,586.68 L845.76,586.35 L847.31,586.01 L848.85,585.68 L850.39,585.34 L851.93,585.01 L853.47,584.67 L855.00,584.34 L856.52,584.00 L858.05,583.67 L859.57,583.33 L861.09,583.00 L862.60,582.66 L864.11,582.33 L865.62,582.00 L867.13,581.66 L868.63,581.33 L870.13,580.99 L871.63,580.66 L873.12,580.32 L874.61,579.99 L876.10,579.66 L877.59,579.32 L879.07,578.99 L880.55,578.65 L882.03,578.32 L883.50,577.98 L884.98,577.65 L886.45,577.32 L887.92,576.98 L889.38,576.65 L890.85,576.31 L892.31,575.98 L893.77,575.65 L895.22,575.31 L896.68,574.98 L898.13,574.64 L899.58,574.31 L901.03,573.98 L902.48,573.64 L903.92,573.31 L905.36,572.98 L906.80,572.64 L908.24,572.31 L909.68,571.97 L911.12,571.64 L912.55,571.31 L913.98,570.97 L915.41,570.64 L916.84,570.31 L918.27,569.97 L919.69,569.64 L921.12,569.31 L922.54,568.97 L923.96,568.64 L925.38,568.30 L926.80,567.97 L928.22,567.64 L929.64,567.30 L931.05,566.97 L932.47,566.64 L933.88,566.30 L935.29,565.97 L936.71,565.64 L938.12,565.30 L939.53,564.97 L940.94,564.64 L942.34,564.30 L943.75,563.97 L945.16,563.63 L946.56,563.30 L947.97,562.97 L949.37,562.63 L950.78,562.30 L952.18,561.97 L953.58,561.63 L954.99,561.30 L956.39,560.97 L957.79,560.63 L959.19,560.30 L960.59,559.97 L962.00,559.63 L963.40,559.30 L964.80,558.97 L966.20,558.63 L967.60,558.30" stroke="#0072BD"/>
<path d="M140.10,423.50 L140.15,425.10 L140.21,426.70 L140.26,428.30 L140.32,429.90 L140.37,431.49 L140.43,433.09 L140.48,434.68 L140.54,436.27 L140.59,437.85 L140.65,439.44 L140.70,441.01 L140.76,442.59 L140.81,444.16 L140.87,445.72 L140.93,447.28 L140.98,448.83 L141.04,450.37 L141.09,451.91 L141.15,453.44 L141.21,454.97 L141.26,456.48 L141.32,457.99 L141.38,459.49 L141.43,460.98 L141.49,462.45 L141.55,463.92 L141.61,465.38 L141.67,466.83 L141.72,468.26 L141.78,469.69 L141.84,471.10 L141.90,472.50 L141.97,474.07 L142.04,475.63 L142.10,477.17 L142.17,478.71 L142.24,480.23 L142.31,481.74 L142.38,483.25 L142.45,484.75 L142.52,486.25 L142.58,487.74 L142.65,489.24 L142.72,490.73 L142.79,492.23 L142.86,493.73 L142.93,495.24 L143.00,496.76 L143.07,498.28 L143.13,499.82 L143.20,501.36 L143.27,502.93 L143.34,504.50 L143.40,506.10 L143.47,507.71 L143.53,509.34 L143.60,511.00 L143.66,512.52 L143.72,514.06 L143.77,515.61 L143.83,517.17 L143.89,518.75 L143.95,520.34 L144.00,521.94 L144.06,523.54 L144.12,525.14 L144.17,526.75 L144.23,528.36 L144.29,529.97 L144.35,531.57 L144.40,533.17 L144.46,534.76 L144.52,536.35 L144.58,537.92 L144.64,539.48 L144.70,541.02 L144.76,542.55 L144.82,544.06 L144.88,545.55 L144.94,547.02 L145.00,548.46 L145.07,549.87 L145.13,551.26 L145.20,552.62 L145.26,553.95 L145.33,555.24 L145.40,556.50 L145.50,558.25 L145.60,559.92 L145.71,561.54 L145.81,563.12 L145.92,564.65 L146.03,566.15 L146.14,567.64 L146.25,569.12 L146.36,570.59 L146.47,572.08 L146.58,573.58 L146.68,575.12 L146.79,576.69 L146.90,578.32 L147.00,580.00 L147.08,581.31 L147.15,582.65 L147.23,584.03 L147.30,585.44 L147.38,586.88 L147.45,588.35 L147.52,589.85 L147.60,591.36 L147.67,592.90 L147.74,594.45 L147.81,596.02 L147.89,597.61 L147.96,599.21 L148.03,600.81 L148.11,602.43 L148.18,604.04 L148.26,605.66 L148.34,607.29 L148.41,608.90 L148.49,610.52 L148.57,612.13 L148.66,613.73 L148.74,615.32 L148.82,616.90 L148.91,618.46 L149.00,620.00 L149.10,621.65 L149.20,623.28 L149.30,624.89 L149.41,626.48 L149.52,628.06 L149.62,629.61 L149.74,631.16 L149.85,632.69 L149.97,634.21 L150.08,635.72 L150.20,637.22 L150.32,638.71 L150.44,640.20 L150.57,641.68 L150.69,643.17 L150.82,644.65 L150.95,646.13 L151.07,647.61 L151.20,649.10 L151.33,650.59 L151.47,652.09 L151.60,653.60 L151.75,655.32 L151.91,657.04 L152.06,658.76 L152.22,660.47 L152.39,662.17 L152.56,663.85 L152.75,665.50 L152.93,667.12 L153.13,668.69 L153.34,670.23 L153.57,671.71 L153.80,673.12 L154.05,674.48 L154.31,675.76 L154.59,676.96 L154.89,678.08 L155.20,679.10 L156.02,681.11 L156.90,682.40 L157.80,682.80 L158.97,681.88 L160.00,680.00 L160.61,678.54 L161.18,677.02 L161.78,675.38 L162.50,673.60 L163.11,672.23 L163.80,670.81 L164.55,669.38 L165.36,667.99 L166.22,666.68 L167.10,665.50 L168.00,664.50 L169.22,663.47 L170.51,662.72 L171.92,662.13 L173.50,661.60 L174.66,661.23 L175.91,660.82 L177.24,660.37 L178.64,659.88 L180.09,659.34 L181.58,658.73 L183.10,658.06 L184.65,657.32 L186.20,656.50 L187.50,655.75 L188.80,654.93 L190.08,654.06 L191.34,653.14 L192.58,652.16 L193.78,651.13 L194.95,650.05 L196.07,648.92 L197.14,647.74 L198.16,646.52 L199.11,645.25 L199.99,643.95 L200.80,642.60 L201.55,641.18 L202.23,639.72 L202.84,638.24 L203.39,636.75 L203.90,635.26 L204.37,633.77 L204.82,632.30 L205.25,630.85 L205.67,629.44 L206.10,628.07 L206.54,626.75 L207.00,625.50 L207.63,624.01 L208.31,622.60 L209.03,621.25 L209.79,619.91 L210.58,618.56 L211.40,617.16 L212.24,615.69 L213.10,614.10 L213.80,612.73 L214.52,611.28 L215.25,609.80 L216.01,608.29 L216.80,606.79 L217.62,605.31 L218.49,603.89 L219.40,602.54 L220.36,601.30 L221.38,600.18 L222.45,599.20 L223.60,598.40 L225.08,597.68 L226.63,597.23 L228.23,597.00 L229.85,596.98 L231.46,597.14 L233.02,597.45 L234.51,597.88 L235.90,598.40 L237.81,599.31 L239.54,600.13 L241.19,600.64 L242.90,600.60 L244.16,600.16 L245.48,599.47 L246.86,598.63 L248.26,597.77 L249.68,597.00 L251.10,596.44 L252.50,596.20 L253.81,596.35 L255.09,596.86 L256.33,597.67 L257.54,598.73 L258.73,599.99 L259.88,601.41 L261.00,602.93 L262.10,604.50 L263.13,606.02 L264.12,607.53 L265.09,609.02 L266.02,610.49 L266.91,611.91 L267.76,613.29 L268.56,614.60 L269.30,615.84 L270.00,617.00 L271.17,618.90 L272.28,620.42 L273.50,621.50 L275.03,622.07 L276.50,621.80 L277.31,621.05 L278.01,619.85 L278.64,618.25 L279.29,616.28 L280.00,614.00 L280.51,612.41 L281.07,610.76 L281.68,609.07 L282.32,607.39 L283.00,605.76 L283.71,604.22 L284.44,602.81 L285.19,601.56 L285.95,600.53 L286.72,599.74 L287.50,599.25 L289.07,599.20 L290.56,600.19 L291.90,601.90 L292.54,603.03 L293.12,604.26 L293.65,605.59 L294.14,607.01 L294.60,608.50 L295.03,610.05 L295.44,611.66 L295.84,613.31 L296.25,615.00 L296.60,616.47 L296.97,617.94 L297.33,619.43 L297.70,620.92 L298.07,622.42 L298.44,623.90 L298.81,625.38 L299.18,626.85 L299.54,628.30 L299.90,629.73 L300.25,631.13 L300.60,632.50 L301.00,634.09 L301.39,635.65 L301.78,637.18 L302.16,638.70 L302.54,640.22 L302.92,641.74 L303.31,643.29 L303.70,644.87 L304.10,646.50 L304.48,648.03 L304.86,649.59 L305.26,651.19 L305.67,652.80 L306.08,654.42 L306.51,656.04 L306.94,657.64 L307.38,659.23 L307.83,660.78 L308.29,662.29 L308.75,663.75 L309.48,665.88 L310.26,667.79 L311.09,669.41 L311.99,670.67 L313.00,671.50 L314.39,671.87 L315.98,671.62 L317.75,670.90 L319.13,670.19 L320.60,669.39 L322.11,668.60 L323.66,667.90 L325.21,667.37 L326.75,667.10 L328.45,667.18 L330.12,667.61 L331.75,668.30 L333.38,669.16 L335.00,670.10 L336.61,671.03 L338.20,671.93 L339.73,672.77 L341.18,673.55 L342.50,674.25 L343.98,674.98 L345.41,675.59 L347.00,676.10 L348.27,676.41 L349.68,676.68 L351.19,676.91 L352.77,677.08 L354.38,677.20 L356.00,677.25 L357.47,677.23 L358.93,677.16 L360.39,677.06 L361.87,676.92 L363.37,676.78 L364.91,676.63 L366.50,676.50 L367.72,676.42 L368.97,676.34 L370.27,676.28 L371.62,676.22 L373.01,676.17 L374.45,676.12 L375.95,676.06 L377.50,676.01 L379.11,675.95 L380.78,675.88 L382.52,675.80 L384.32,675.71 L386.20,675.60 L387.47,675.52 L388.77,675.43 L390.10,675.34 L391.46,675.24 L392.84,675.13 L394.25,675.02 L395.68,674.90 L397.13,674.78 L398.59,674.65 L400.08,674.51 L401.59,674.37 L403.10,674.23 L404.64,674.08 L406.18,673.93 L407.74,673.77 L409.30,673.62 L410.87,673.45 L412.45,673.29 L414.03,673.12 L415.62,672.95 L417.20,672.78 L418.79,672.61 L420.37,672.43 L421.96,672.26 L423.53,672.08 L425.10,671.91 L426.67,671.73 L428.22,671.55 L429.77,671.38 L431.30,671.20 L432.92,671.01 L434.52,670.83 L436.11,670.64 L437.68,670.46 L439.25,670.27 L440.80,670.09 L442.34,669.90 L443.88,669.72 L445.40,669.53 L446.92,669.34 L448.43,669.15 L449.94,668.96 L451.44,668.76 L452.94,668.57 L454.44,668.37 L455.93,668.17 L457.43,667.96 L458.92,667.76 L460.41,667.54 L461.91,667.33 L463.41,667.11 L464.91,666.89 L466.41,666.66 L467.93,666.43 L469.44,666.19 L470.97,665.95 L472.50,665.70 L474.00,665.45 L475.50,665.20 L477.01,664.95 L478.52,664.68 L480.04,664.42 L481.56,664.15 L483.09,663.87 L484.61,663.59 L486.14,663.31 L487.66,663.02 L489.19,662.73 L490.71,662.44 L492.22,662.14 L493.74,661.84 L495.24,661.54 L496.74,661.23 L498.23,660.92 L499.71,660.61 L501.18,660.30 L502.64,659.98 L504.09,659.66 L505.52,659.34 L506.94,659.02 L508.35,658.70 L509.74,658.38 L511.11,658.05 L512.47,657.73 L513.80,657.40 L515.40,657.00 L516.97,656.60 L518.51,656.20 L520.03,655.80 L521.53,655.39 L523.00,654.98 L524.46,654.57 L525.91,654.15 L527.33,653.73 L528.75,653.30 L530.16,652.87 L531.56,652.43 L532.95,651.98 L534.34,651.52 L535.73,651.05 L537.12,650.58 L538.51,650.10 L539.90,649.60 L541.30,649.10 L542.76,648.57 L544.22,648.02 L545.69,647.47 L547.16,646.90 L548.63,646.33 L550.09,645.75 L551.56,645.16 L553.01,644.57 L554.46,643.96 L555.90,643.36 L557.33,642.75 L558.73,642.13 L560.13,641.51 L561.50,640.89 L562.85,640.27 L564.18,639.65 L565.48,639.02 L566.75,638.40 L568.27,637.64 L569.74,636.88 L571.17,636.12 L572.56,635.36 L573.91,634.59 L575.23,633.82 L576.52,633.04 L577.77,632.26 L578.99,631.46 L580.19,630.65 L581.35,629.83 L582.50,629.00 L583.93,627.92 L585.31,626.81 L586.64,625.69 L587.92,624.56 L589.12,623.42 L590.25,622.27 L591.30,621.13 L592.25,620.00 L593.35,618.54 L594.31,617.08 L595.18,615.60 L595.98,614.08 L596.75,612.50 L597.45,611.00 L598.13,609.44 L598.79,607.83 L599.42,606.18 L599.99,604.48 L600.50,602.75 L600.87,601.28 L601.20,599.78 L601.50,598.25 L601.79,596.68 L602.08,595.08 L602.39,593.44 L602.72,591.74 L603.10,590.00 L603.44,588.56 L603.81,587.10 L604.21,585.61 L604.63,584.10 L605.07,582.57 L605.51,581.03 L605.96,579.49 L606.41,577.95 L606.86,576.42 L607.29,574.89 L607.71,573.39 L608.10,571.90 L608.53,570.20 L608.93,568.54 L609.31,566.93 L609.69,565.35 L610.08,563.81 L610.48,562.31 L610.91,560.86 L611.38,559.46 L611.90,558.10 L612.77,556.22 L613.74,554.66 L614.79,553.65 L615.90,553.40 L616.81,553.86 L617.72,554.83 L618.63,556.21 L619.51,557.90 L620.36,559.79 L621.16,561.78 L621.90,563.75 L622.45,565.32 L622.96,566.83 L623.42,568.28 L623.85,569.71 L624.24,571.12 L624.61,572.52 L624.95,573.95 L625.28,575.40 L625.60,576.90 L625.87,578.26 L626.15,579.66 L626.42,581.09 L626.70,582.57 L626.98,584.07 L627.28,585.59 L627.59,587.14 L627.91,588.70 L628.25,590.27 L628.61,591.85 L628.99,593.42 L629.40,595.00 L629.81,596.49 L630.25,597.97 L630.70,599.45 L631.16,600.91 L631.62,602.37 L632.09,603.82 L632.56,605.27 L633.01,606.70 L633.46,608.13 L633.88,609.55 L634.28,610.96 L634.66,612.36 L635.00,613.75 L635.44,615.74 L635.84,617.67 L636.24,619.50 L636.69,621.19 L637.23,622.69 L637.91,623.98 L638.75,625.00 L640.12,625.89 L641.71,626.38 L643.38,626.55 L645.00,626.50 L646.47,626.31 L647.90,626.00 L649.44,625.56 L651.25,625.00 L652.38,624.64 L653.61,624.26 L654.94,623.84 L656.34,623.41 L657.80,622.96 L659.32,622.50 L660.86,622.03 L662.42,621.56 L663.99,621.10 L665.55,620.65 L667.08,620.21 L668.57,619.79 L670.00,619.40 L671.79,618.93 L673.48,618.50 L675.08,618.11 L676.62,617.73 L678.12,617.37 L679.58,617.01 L681.04,616.64 L682.50,616.25 L683.68,615.92 L684.88,615.57 L686.12,615.20 L687.40,614.82 L688.72,614.42 L690.10,614.01 L691.55,613.58 L693.07,613.14 L694.66,612.68 L696.34,612.21 L698.12,611.74 L700.00,611.25 L701.09,610.98 L702.20,610.70 L703.35,610.42 L704.53,610.14 L705.74,609.86 L706.98,609.57 L708.25,609.29 L709.54,609.00 L710.86,608.70 L712.20,608.41 L713.57,608.12 L714.96,607.82 L716.37,607.52 L717.80,607.22 L719.26,606.92 L720.73,606.62 L722.22,606.31 L723.72,606.01 L725.25,605.70 L726.79,605.39 L728.34,605.08 L729.90,604.78 L731.48,604.47 L733.07,604.16 L734.67,603.85 L736.28,603.53 L737.90,603.22 L739.52,602.91 L741.15,602.60 L742.79,602.29 L744.43,601.98 L746.07,601.67 L747.72,601.35 L749.37,601.04 L751.02,600.73 L752.67,600.42 L754.31,600.12 L755.96,599.81 L757.60,599.50 L759.14,599.21 L760.67,598.93 L762.20,598.64 L763.72,598.36 L765.24,598.07 L766.76,597.79 L768.28,597.51 L769.79,597.22 L771.30,596.94 L772.81,596.66 L774.32,596.38 L775.82,596.10 L777.33,595.83 L778.83,595.55 L780.32,595.27 L781.82,595.00 L783.32,594.72 L784.81,594.45 L786.31,594.17 L787.80,593.90 L789.29,593.63 L790.79,593.36 L792.28,593.09 L793.77,592.82 L795.26,592.55 L796.75,592.28 L798.24,592.01 L799.74,591.75 L801.23,591.48 L802.72,591.21 L804.22,590.95 L805.71,590.68 L807.21,590.42 L808.70,590.16 L810.20,589.89 L811.70,589.63 L813.20,589.37 L814.71,589.11 L816.21,588.85 L817.72,588.59 L819.23,588.33 L820.75,588.07 L822.26,587.81 L823.78,587.56 L825.30,587.30 L826.82,587.04 L828.34,586.79 L829.87,586.54 L831.40,586.28 L832.93,586.03 L834.46,585.78 L835.99,585.52 L837.53,585.27 L839.06,585.02 L840.60,584.77 L842.14,584.52 L843.68,584.28 L845.21,584.03 L846.75,583.78 L848.29,583.53 L849.82,583.29 L851.36,583.04 L852.89,582.80 L854.42,582.55 L855.95,582.31 L857.48,582.07 L859.01,581.83 L860.53,581.59 L862.05,581.35 L863.57,581.11 L865.09,580.87 L866.60,580.63 L868.10,580.40 L869.61,580.16 L871.11,579.92 L872.60,579.69 L874.09,579.46 L875.57,579.22 L877.05,578.99 L878.53,578.76 L879.99,578.53 L881.46,578.30 L882.91,578.07 L884.36,577.85 L885.80,577.62 L887.24,577.39 L888.66,577.17 L890.08,576.94 L891.50,576.72 L892.90,576.50 L894.54,576.24 L896.16,575.98 L897.78,575.73 L899.38,575.47 L900.97,575.22 L902.56,574.96 L904.13,574.71 L905.70,574.46 L907.25,574.21 L908.80,573.96 L910.34,573.71 L911.87,573.46 L913.40,573.22 L914.92,572.97 L916.43,572.73 L917.93,572.48 L919.43,572.24 L920.93,572.00 L922.41,571.75 L923.90,571.51 L925.38,571.27 L926.85,571.03 L928.32,570.79 L929.79,570.55 L931.26,570.31 L932.72,570.07 L934.18,569.83 L935.63,569.59 L937.09,569.35 L938.54,569.12 L940.00,568.88 L941.45,568.64 L942.90,568.40" stroke="#D95319" stroke-dasharray="20 11.8"/>
</g>
<text x="97.50" y="748.80" text-anchor="middle" font-size="33" fill="#262626">0</text>
<text x="271.56" y="748.80" text-anchor="middle" font-size="33" fill="#262626">1</text>
<text x="445.62" y="748.80" text-anchor="middle" font-size="33" fill="#262626">2</text>
<text x="619.68" y="748.80" text-anchor="middle" font-size="33" fill="#262626">3</text>
<text x="793.74" y="748.80" text-anchor="middle" font-size="33" fill="#262626">4</text>
<text x="967.80" y="748.80" text-anchor="middle" font-size="33" fill="#262626">5</text>
<text x="87.30" y="719.40" text-anchor="end" font-size="33" fill="#262626">0</text>
<text x="87.30" y="662.02" text-anchor="end" font-size="33" fill="#262626">0.1</text>
<text x="87.30" y="604.64" text-anchor="end" font-size="33" fill="#262626">0.2</text>
<text x="87.30" y="547.26" text-anchor="end" font-size="33" fill="#262626">0.3</text>
<text x="87.30" y="489.88" text-anchor="end" font-size="33" fill="#262626">0.4</text>
<rect x="721.4" y="436.5" width="213.70000000000005" height="83.70000000000005" fill="#fff" stroke="#262626" stroke-width="1.15"/>
<path d="M730.0,459.4H790.7" stroke="#0072BD" stroke-width="3.0"/>
<path d="M730.0,497.4H750.2M762.2,497.4H782.4" stroke="#D95319" stroke-width="3.0"/>
<text x="795.15" y="466.70" font-size="29.5" fill="#000" textLength="79.50" lengthAdjust="spacingAndGlyphs">Model</text>
<text x="796.00" y="504.40" font-size="29.5" fill="#000" textLength="64.05" lengthAdjust="spacingAndGlyphs">C<tspan font-size="41.5" dy="6.1">/</tspan><tspan dy="-6.1">20</tspan></text>
<text x="869.30" y="504.40" font-size="29.5" fill="#000" textLength="56.00" lengthAdjust="spacingAndGlyphs">data</text>
<path d="M1193.20,710.40V701.40M1193.20,423.50V432.50M1367.26,710.40V701.40M1367.26,423.50V432.50M1541.32,710.40V701.40M1541.32,423.50V432.50M1715.38,710.40V701.40M1715.38,423.50V432.50M1889.44,710.40V701.40M1889.44,423.50V432.50M2063.50,710.40V701.40M2063.50,423.50V432.50M1193.20,694.60H1202.20M2063.40,694.60H2054.40M1193.20,626.75H1202.20M2063.40,626.75H2054.40M1193.20,558.90H1202.20M2063.40,558.90H2054.40M1193.20,491.05H1202.20M2063.40,491.05H2054.40M1193.20,423.20H1202.20M2063.40,423.20H2054.40" stroke="#262626" stroke-width="1.15" fill="none"/>
<rect x="1193.2" y="423.5" width="870.2" height="286.9" fill="none" stroke="#262626" stroke-width="1.15"/>
<clipPath id="cd"><rect x="1192.7" y="423.0" width="871.2" height="287.9"/></clipPath>
<g clip-path="url(#cd)" fill="none" stroke-width="3.0" stroke-linejoin="round">
<path d="M1241.60,559.40 L1243.21,559.40 L1244.84,559.40 L1246.51,559.40 L1248.22,559.40 L1250.00,559.40 L1251.68,559.40 L1253.40,559.40 L1255.12,559.40 L1256.82,559.40 L1258.46,559.40 L1260.00,559.40 L1261.65,559.40 L1263.17,559.40 L1264.61,559.43 L1266.00,559.50 L1267.78,559.67 L1269.59,559.99 L1271.50,560.50 L1272.82,560.97 L1274.19,561.54 L1275.60,562.23 L1277.04,563.03 L1278.51,563.96 L1280.00,565.00 L1281.15,565.89 L1282.31,566.84 L1283.46,567.86 L1284.61,568.94 L1285.76,570.06 L1286.89,571.23 L1288.01,572.44 L1289.11,573.68 L1290.19,574.96 L1291.25,576.25 L1292.23,577.49 L1293.20,578.74 L1294.16,580.00 L1295.11,581.25 L1296.08,582.49 L1297.06,583.72 L1298.07,584.92 L1299.11,586.10 L1300.19,587.24 L1301.32,588.34 L1302.50,589.40 L1303.83,590.47 L1305.23,591.47 L1306.68,592.40 L1308.17,593.24 L1309.70,593.98 L1311.25,594.63 L1312.82,595.16 L1314.39,595.57 L1315.95,595.85 L1317.50,596.00 L1319.06,596.00 L1320.60,595.86 L1322.11,595.57 L1323.59,595.15 L1325.05,594.61 L1326.47,593.94 L1327.88,593.15 L1329.25,592.25 L1330.60,591.25 L1331.70,590.35 L1332.78,589.38 L1333.84,588.35 L1334.88,587.28 L1335.92,586.16 L1336.93,585.00 L1337.94,583.81 L1338.93,582.59 L1339.91,581.34 L1340.88,580.08 L1341.85,578.81 L1342.80,577.53 L1343.75,576.25 L1344.74,574.91 L1345.72,573.58 L1346.69,572.26 L1347.66,570.96 L1348.61,569.67 L1349.56,568.39 L1350.49,567.14 L1351.42,565.91 L1352.33,564.70 L1353.23,563.52 L1354.12,562.37 L1355.00,561.25 L1356.06,559.92 L1357.12,558.65 L1358.20,557.45 L1359.31,556.32 L1360.46,555.29 L1361.68,554.35 L1362.99,553.52 L1364.40,552.80 L1365.73,552.27 L1367.13,551.83 L1368.60,551.46 L1370.12,551.17 L1371.66,550.93 L1373.23,550.75 L1374.80,550.62 L1376.37,550.52 L1377.90,550.45 L1379.40,550.40 L1381.12,550.36 L1382.77,550.33 L1384.34,550.33 L1385.85,550.35 L1387.29,550.41 L1388.68,550.49 L1390.00,550.60 L1391.80,550.84 L1393.49,551.28 L1395.09,552.03 L1396.60,553.20 L1397.39,554.06 L1398.17,555.07 L1398.92,556.22 L1399.65,557.49 L1400.36,558.87 L1401.06,560.34 L1401.75,561.89 L1402.42,563.52 L1403.08,565.19 L1403.73,566.91 L1404.37,568.65 L1405.00,570.40 L1405.52,571.85 L1406.03,573.31 L1406.55,574.76 L1407.05,576.21 L1407.56,577.66 L1408.06,579.12 L1408.55,580.58 L1409.04,582.04 L1409.53,583.50 L1410.01,584.97 L1410.50,586.44 L1410.97,587.92 L1411.44,589.40 L1411.91,590.89 L1412.38,592.39 L1412.84,593.89 L1413.30,595.40 L1413.73,596.82 L1414.15,598.25 L1414.57,599.69 L1414.99,601.13 L1415.42,602.57 L1415.84,604.02 L1416.26,605.48 L1416.68,606.94 L1417.11,608.40 L1417.53,609.87 L1417.96,611.33 L1418.40,612.80 L1418.84,614.27 L1419.28,615.75 L1419.73,617.22 L1420.19,618.69 L1420.65,620.16 L1421.12,621.63 L1421.60,623.10 L1422.10,624.59 L1422.60,626.08 L1423.12,627.56 L1423.64,629.05 L1424.17,630.53 L1424.72,632.00 L1425.27,633.48 L1425.83,634.95 L1426.41,636.41 L1426.99,637.87 L1427.58,639.33 L1428.18,640.78 L1428.80,642.23 L1429.42,643.67 L1430.06,645.11 L1430.70,646.54 L1431.36,647.97 L1432.02,649.39 L1432.70,650.80 L1433.62,652.67 L1434.56,654.50 L1435.52,656.27 L1436.49,657.94 L1437.49,659.49 L1438.50,660.89 L1439.53,662.11 L1440.57,663.13 L1441.63,663.92 L1442.71,664.45 L1443.80,664.70 L1444.94,664.63 L1446.10,664.26 L1447.25,663.61 L1448.40,662.71 L1449.55,661.58 L1450.68,660.26 L1451.78,658.78 L1452.86,657.15 L1453.90,655.42 L1454.90,653.60 L1455.56,652.32 L1456.20,651.02 L1456.81,649.69 L1457.41,648.34 L1457.99,646.97 L1458.56,645.58 L1459.11,644.17 L1459.65,642.74 L1460.17,641.29 L1460.69,639.84 L1461.19,638.36 L1461.69,636.87 L1462.18,635.38 L1462.66,633.87 L1463.14,632.35 L1463.62,630.82 L1464.10,629.29 L1464.57,627.75 L1465.04,626.20 L1465.52,624.65 L1466.00,623.10 L1466.46,621.63 L1466.92,620.15 L1467.39,618.67 L1467.86,617.20 L1468.33,615.72 L1468.81,614.25 L1469.28,612.78 L1469.76,611.31 L1470.24,609.84 L1470.73,608.37 L1471.21,606.91 L1471.70,605.45 L1472.18,604.00 L1472.67,602.55 L1473.15,601.11 L1473.64,599.67 L1474.12,598.24 L1474.60,596.81 L1475.09,595.39 L1475.57,593.98 L1476.05,592.58 L1476.53,591.19 L1477.00,589.80 L1477.59,588.07 L1478.19,586.35 L1478.77,584.66 L1479.35,583.00 L1479.93,581.37 L1480.50,579.77 L1481.06,578.21 L1481.61,576.69 L1482.16,575.22 L1482.71,573.80 L1483.24,572.44 L1483.77,571.13 L1484.29,569.89 L1484.80,568.71 L1485.30,567.60 L1486.15,565.86 L1486.98,564.34 L1487.80,563.03 L1488.64,561.91 L1489.50,561.00 L1491.13,559.84 L1493.00,559.20 L1494.45,559.02 L1496.09,558.98 L1497.93,559.03 L1500.00,559.10 L1501.17,559.13 L1502.41,559.15 L1503.71,559.16 L1505.07,559.17 L1506.50,559.18 L1507.98,559.17 L1509.53,559.17 L1511.13,559.16 L1512.80,559.15 L1514.51,559.14 L1516.29,559.12 L1518.12,559.11 L1520.00,559.10 L1521.36,559.09 L1522.75,559.09 L1524.16,559.08 L1525.59,559.08 L1527.05,559.07 L1528.52,559.07 L1530.01,559.07 L1531.52,559.07 L1533.04,559.07 L1534.58,559.07 L1536.13,559.07 L1537.69,559.07 L1539.26,559.07 L1540.84,559.07 L1542.43,559.07 L1544.02,559.08 L1545.62,559.08 L1547.22,559.08 L1548.83,559.08 L1550.43,559.09 L1552.04,559.09 L1553.64,559.09 L1555.24,559.09 L1556.83,559.10 L1558.42,559.10 L1560.00,559.10 L1561.57,559.10 L1563.14,559.10 L1564.69,559.10 L1566.24,559.10 L1567.79,559.11 L1569.33,559.11 L1570.86,559.11 L1572.39,559.11 L1573.92,559.11 L1575.44,559.11 L1576.96,559.11 L1578.48,559.11 L1580.00,559.10 L1581.52,559.10 L1583.04,559.10 L1584.57,559.10 L1586.09,559.10 L1587.62,559.10 L1589.15,559.10 L1590.68,559.10 L1592.22,559.10 L1593.76,559.10 L1595.31,559.10 L1596.87,559.10 L1598.43,559.10 L1600.00,559.10 L1601.58,559.10 L1603.17,559.10 L1604.76,559.10 L1606.36,559.10 L1607.96,559.10 L1609.56,559.10 L1611.16,559.10 L1612.77,559.11 L1614.37,559.11 L1615.96,559.11 L1617.56,559.11 L1619.14,559.11 L1620.72,559.11 L1622.29,559.11 L1623.85,559.11 L1625.40,559.11 L1626.94,559.11 L1628.47,559.11 L1629.97,559.11 L1631.47,559.11 L1632.94,559.11 L1634.40,559.11 L1635.83,559.11 L1637.24,559.10 L1638.63,559.10 L1640.00,559.10 L1641.89,559.10 L1643.72,559.09 L1645.50,559.09 L1647.23,559.08 L1648.89,559.08 L1650.50,559.07 L1652.05,559.07 L1653.54,559.07 L1654.96,559.07 L1656.32,559.07 L1657.62,559.08 L1658.84,559.09 L1660.00,559.10 L1662.04,559.13 L1663.85,559.13 L1665.49,559.06 L1667.00,558.90 L1668.54,558.57 L1670.02,558.10 L1671.50,557.50 L1672.89,556.83 L1674.29,555.93 L1675.67,554.70 L1677.00,553.00 L1677.57,552.06 L1678.12,551.02 L1678.67,549.87 L1679.20,548.64 L1679.72,547.31 L1680.23,545.91 L1680.73,544.44 L1681.22,542.91 L1681.71,541.33 L1682.19,539.70 L1682.67,538.03 L1683.14,536.34 L1683.62,534.62 L1684.09,532.89 L1684.56,531.16 L1685.04,529.43 L1685.52,527.70 L1686.00,526.00 L1686.49,524.32 L1686.98,522.67 L1687.47,521.04 L1687.97,519.44 L1688.47,517.86 L1688.98,516.30 L1689.48,514.76 L1689.99,513.24 L1690.50,511.75 L1691.01,510.27 L1691.51,508.81 L1692.02,507.36 L1692.52,505.93 L1693.03,504.52 L1693.53,503.12 L1694.02,501.73 L1694.51,500.36 L1695.00,499.00 L1695.54,497.49 L1696.08,496.00 L1696.62,494.52 L1697.16,493.06 L1697.72,491.61 L1698.29,490.18 L1698.89,488.78 L1699.51,487.39 L1700.16,486.02 L1700.84,484.67 L1701.56,483.34 L1702.33,482.04 L1703.14,480.76 L1704.00,479.50 L1705.03,478.13 L1706.13,476.80 L1707.28,475.54 L1708.47,474.36 L1709.71,473.27 L1710.97,472.30 L1712.26,471.47 L1713.57,470.78 L1714.88,470.25 L1716.20,469.90 L1717.50,469.75 L1718.97,469.83 L1720.42,470.17 L1721.84,470.75 L1723.22,471.54 L1724.57,472.52 L1725.87,473.68 L1727.13,475.00 L1728.34,476.44 L1729.50,478.00 L1730.29,479.16 L1731.05,480.37 L1731.78,481.62 L1732.49,482.90 L1733.17,484.22 L1733.83,485.58 L1734.47,486.96 L1735.09,488.38 L1735.69,489.82 L1736.28,491.29 L1736.84,492.77 L1737.40,494.28 L1737.94,495.80 L1738.47,497.33 L1738.99,498.88 L1739.50,500.44 L1740.00,502.00 L1740.47,503.50 L1740.94,505.00 L1741.41,506.50 L1741.87,508.01 L1742.33,509.52 L1742.78,511.03 L1743.24,512.54 L1743.70,514.05 L1744.16,515.56 L1744.62,517.06 L1745.08,518.57 L1745.55,520.08 L1746.02,521.58 L1746.50,523.08 L1746.98,524.57 L1747.47,526.06 L1747.97,527.55 L1748.48,529.03 L1749.00,530.50 L1749.59,532.12 L1750.18,533.74 L1750.79,535.33 L1751.40,536.90 L1752.02,538.45 L1752.64,539.96 L1753.27,541.45 L1753.89,542.89 L1754.50,544.29 L1755.11,545.64 L1755.71,546.93 L1756.31,548.17 L1756.89,549.35 L1757.45,550.46 L1758.00,551.50 L1758.90,553.11 L1759.78,554.51 L1760.65,555.71 L1761.55,556.70 L1762.50,557.50 L1763.87,558.28 L1765.38,558.80 L1767.00,559.10 L1768.35,559.22 L1769.79,559.27 L1771.36,559.27 L1773.09,559.24 L1775.00,559.20 L1776.14,559.18 L1777.35,559.17 L1778.62,559.16 L1779.94,559.15 L1781.33,559.15 L1782.77,559.15 L1784.27,559.15 L1785.82,559.15 L1787.43,559.15 L1789.08,559.16 L1790.79,559.16 L1792.54,559.17 L1794.34,559.18 L1796.18,559.19 L1798.07,559.19 L1800.00,559.20 L1801.35,559.20 L1802.71,559.21 L1804.09,559.21 L1805.49,559.21 L1806.90,559.22 L1808.33,559.22 L1809.77,559.22 L1811.23,559.22 L1812.70,559.22 L1814.18,559.22 L1815.68,559.22 L1817.18,559.22 L1818.70,559.22 L1820.22,559.22 L1821.76,559.22 L1823.30,559.22 L1824.85,559.22 L1826.40,559.22 L1827.96,559.22 L1829.53,559.22 L1831.10,559.22 L1832.67,559.22 L1834.24,559.21 L1835.82,559.21 L1837.40,559.21 L1838.98,559.21 L1840.56,559.21 L1842.14,559.21 L1843.72,559.21 L1845.30,559.20 L1846.87,559.20 L1848.44,559.20 L1850.00,559.20 L1851.56,559.20 L1853.11,559.20 L1854.66,559.20 L1856.21,559.20 L1857.75,559.20 L1859.28,559.20 L1860.82,559.19 L1862.34,559.19 L1863.87,559.19 L1865.39,559.19 L1866.91,559.19 L1868.43,559.19 L1869.94,559.19 L1871.45,559.19 L1872.96,559.19 L1874.47,559.19 L1875.97,559.19 L1877.48,559.19 L1878.98,559.19 L1880.48,559.20 L1881.98,559.20 L1883.48,559.20 L1884.98,559.20 L1886.48,559.20 L1887.98,559.20 L1889.48,559.20 L1890.98,559.20 L1892.48,559.20 L1893.98,559.20 L1895.48,559.20 L1896.99,559.20 L1898.49,559.20 L1900.00,559.20 L1901.51,559.20 L1903.02,559.20 L1904.53,559.20 L1906.05,559.20 L1907.56,559.20 L1909.08,559.20 L1910.60,559.20 L1912.12,559.20 L1913.64,559.20 L1915.16,559.20 L1916.68,559.20 L1918.20,559.20 L1919.72,559.20 L1921.24,559.20 L1922.77,559.20 L1924.29,559.20 L1925.81,559.20 L1927.33,559.20 L1928.85,559.20 L1930.37,559.20 L1931.89,559.20 L1933.41,559.20 L1934.92,559.20 L1936.44,559.20 L1937.95,559.20 L1939.47,559.20 L1940.98,559.20 L1942.49,559.20 L1943.99,559.20 L1945.50,559.20 L1947.00,559.20 L1948.50,559.20 L1950.00,559.20 L1951.50,559.20 L1952.99,559.20 L1954.48,559.20 L1955.97,559.20 L1957.46,559.20 L1958.94,559.20 L1960.43,559.20 L1961.92,559.20 L1963.40,559.20 L1964.89,559.20 L1966.38,559.20 L1967.87,559.20 L1969.36,559.20 L1970.85,559.20 L1972.34,559.20 L1973.84,559.20 L1975.34,559.20 L1976.84,559.20 L1978.35,559.20 L1979.86,559.20 L1981.37,559.20 L1982.89,559.20 L1984.41,559.20 L1985.94,559.20 L1987.48,559.20 L1989.02,559.20 L1990.57,559.20 L1992.12,559.20 L1993.68,559.20 L1995.25,559.20 L1996.82,559.20 L1998.41,559.20 L2000.00,559.20 L2001.41,559.20 L2002.84,559.20 L2004.26,559.20 L2005.70,559.20 L2007.14,559.20 L2008.59,559.20 L2010.04,559.20 L2011.50,559.20 L2012.96,559.20 L2014.43,559.20 L2015.90,559.20 L2017.38,559.20 L2018.87,559.20 L2020.36,559.20 L2021.85,559.20 L2023.35,559.20 L2024.85,559.20 L2026.36,559.20 L2027.87,559.20 L2029.38,559.20 L2030.90,559.20 L2032.42,559.20 L2033.94,559.20 L2035.47,559.20 L2037.00,559.20 L2038.53,559.20 L2040.07,559.20 L2041.60,559.20 L2043.14,559.20 L2044.69,559.20 L2046.23,559.20 L2047.78,559.20 L2049.32,559.20 L2050.87,559.20 L2052.42,559.20 L2053.98,559.20 L2055.53,559.20 L2057.08,559.20 L2058.64,559.20 L2060.19,559.20 L2061.75,559.20 L2063.30,559.20" stroke="#0072BD"/>
<path d="M1230.30,540.60 L1230.82,542.55 L1231.35,544.49 L1231.88,546.39 L1232.43,548.23 L1233.00,550.01 L1233.59,551.69 L1234.21,553.26 L1234.86,554.71 L1235.55,556.01 L1236.28,557.15 L1237.05,558.10 L1237.87,558.86 L1238.75,559.40 L1240.21,559.78 L1241.77,559.64 L1243.39,559.03 L1245.01,557.97 L1246.60,556.51 L1248.10,554.70 L1248.82,553.66 L1249.51,552.54 L1250.17,551.35 L1250.80,550.09 L1251.41,548.77 L1252.00,547.40 L1252.57,545.98 L1253.12,544.51 L1253.65,543.01 L1254.16,541.47 L1254.67,539.90 L1255.16,538.30 L1255.64,536.69 L1256.12,535.07 L1256.59,533.43 L1257.05,531.79 L1257.52,530.16 L1257.98,528.53 L1258.45,526.92 L1258.92,525.32 L1259.40,523.75 L1260.07,521.63 L1260.76,519.59 L1261.46,517.65 L1262.19,515.84 L1262.93,514.18 L1263.69,512.69 L1264.47,511.41 L1265.27,510.35 L1266.09,509.53 L1266.93,508.99 L1267.80,508.75 L1268.85,508.86 L1269.92,509.37 L1271.01,510.23 L1272.10,511.39 L1273.17,512.80 L1274.23,514.42 L1275.26,516.21 L1276.25,518.10 L1276.88,519.39 L1277.48,520.71 L1278.07,522.06 L1278.64,523.43 L1279.19,524.82 L1279.73,526.24 L1280.26,527.67 L1280.77,529.13 L1281.27,530.60 L1281.77,532.08 L1282.26,533.59 L1282.74,535.10 L1283.22,536.63 L1283.69,538.17 L1284.17,539.71 L1284.64,541.27 L1285.12,542.83 L1285.60,544.40 L1286.06,545.90 L1286.53,547.41 L1287.00,548.91 L1287.48,550.42 L1287.96,551.93 L1288.43,553.44 L1288.91,554.95 L1289.39,556.47 L1289.88,557.98 L1290.36,559.49 L1290.83,560.99 L1291.31,562.50 L1291.79,564.00 L1292.26,565.50 L1292.73,567.00 L1293.19,568.49 L1293.65,569.98 L1294.11,571.46 L1294.56,572.93 L1295.00,574.40 L1295.49,576.04 L1295.97,577.68 L1296.45,579.30 L1296.92,580.91 L1297.38,582.50 L1297.85,584.08 L1298.31,585.64 L1298.76,587.19 L1299.22,588.72 L1299.68,590.22 L1300.14,591.70 L1300.60,593.16 L1301.07,594.60 L1301.54,596.01 L1302.02,597.39 L1302.50,598.75 L1303.08,600.32 L1303.68,601.85 L1304.30,603.35 L1304.93,604.80 L1305.58,606.22 L1306.25,607.60 L1306.94,608.95 L1307.66,610.26 L1308.41,611.54 L1309.19,612.78 L1310.00,614.00 L1311.02,615.43 L1312.08,616.81 L1313.16,618.15 L1314.26,619.43 L1315.35,620.66 L1316.43,621.83 L1317.48,622.95 L1318.50,624.00 L1319.91,625.43 L1321.27,626.68 L1322.61,627.71 L1324.00,628.50 L1325.73,629.03 L1327.57,628.94 L1329.50,628.00 L1330.36,627.27 L1331.23,626.37 L1332.09,625.30 L1332.96,624.10 L1333.81,622.79 L1334.64,621.39 L1335.45,619.92 L1336.23,618.41 L1336.98,616.88 L1337.69,615.35 L1338.34,613.84 L1338.95,612.38 L1339.50,611.00 L1340.12,609.35 L1340.66,607.82 L1341.15,606.39 L1341.63,605.01 L1342.13,603.67 L1342.67,602.32 L1343.28,600.94 L1344.00,599.50 L1344.87,597.93 L1345.87,596.33 L1346.95,594.77 L1348.11,593.31 L1349.32,592.04 L1350.56,591.02 L1351.79,590.31 L1353.00,590.00 L1354.63,590.26 L1356.17,591.03 L1357.63,591.91 L1359.00,592.50 L1361.06,592.22 L1363.00,591.00 L1364.15,590.12 L1365.28,589.14 L1366.40,587.96 L1367.50,586.50 L1368.09,585.56 L1368.67,584.52 L1369.25,583.38 L1369.82,582.15 L1370.39,580.83 L1370.94,579.44 L1371.49,577.97 L1372.02,576.44 L1372.54,574.84 L1373.05,573.20 L1373.55,571.50 L1374.03,569.77 L1374.50,568.00 L1374.86,566.56 L1375.22,565.11 L1375.57,563.64 L1375.91,562.16 L1376.24,560.67 L1376.57,559.17 L1376.89,557.67 L1377.22,556.16 L1377.54,554.66 L1377.86,553.16 L1378.18,551.66 L1378.50,550.17 L1378.82,548.69 L1379.15,547.21 L1379.48,545.76 L1379.82,544.31 L1380.17,542.89 L1380.52,541.49 L1380.88,540.11 L1381.25,538.75 L1381.73,537.08 L1382.23,535.45 L1382.75,533.86 L1383.28,532.31 L1383.83,530.80 L1384.39,529.33 L1384.97,527.89 L1385.57,526.49 L1386.18,525.13 L1386.80,523.80 L1387.44,522.50 L1388.09,521.23 L1388.75,520.00 L1389.74,518.27 L1390.76,516.70 L1391.81,515.35 L1392.90,514.33 L1394.03,513.72 L1395.20,513.60 L1396.05,513.85 L1396.92,514.36 L1397.80,515.12 L1398.68,516.09 L1399.55,517.26 L1400.42,518.59 L1401.26,520.07 L1402.09,521.67 L1402.88,523.37 L1403.63,525.14 L1404.34,526.96 L1405.00,528.80 L1405.48,530.25 L1405.92,531.71 L1406.33,533.17 L1406.72,534.63 L1407.07,536.09 L1407.40,537.57 L1407.71,539.04 L1408.00,540.53 L1408.26,542.02 L1408.51,543.53 L1408.74,545.04 L1408.96,546.57 L1409.17,548.11 L1409.37,549.66 L1409.57,551.22 L1409.76,552.80 L1409.94,554.40 L1410.13,556.02 L1410.31,557.65 L1410.50,559.30 L1410.67,560.74 L1410.84,562.19 L1411.01,563.66 L1411.19,565.14 L1411.37,566.63 L1411.56,568.13 L1411.74,569.64 L1411.93,571.17 L1412.13,572.70 L1412.32,574.24 L1412.52,575.78 L1412.73,577.33 L1412.93,578.89 L1413.14,580.46 L1413.35,582.02 L1413.56,583.60 L1413.77,585.17 L1413.99,586.75 L1414.21,588.32 L1414.43,589.90 L1414.65,591.48 L1414.87,593.06 L1415.09,594.63 L1415.32,596.20 L1415.54,597.77 L1415.77,599.34 L1416.00,600.90 L1416.23,602.46 L1416.46,604.02 L1416.69,605.57 L1416.92,607.11 L1417.15,608.65 L1417.38,610.18 L1417.61,611.71 L1417.84,613.23 L1418.07,614.75 L1418.30,616.26 L1418.53,617.77 L1418.75,619.27 L1418.97,620.76 L1419.19,622.25 L1419.41,623.74 L1419.63,625.21 L1419.84,626.69 L1420.05,628.15 L1420.26,629.62 L1420.46,631.07 L1420.66,632.52 L1420.86,633.97 L1421.05,635.41 L1421.24,636.85 L1421.42,638.28 L1421.60,639.70 L1421.77,641.12 L1421.94,642.53 L1422.11,643.94 L1422.27,645.34 L1422.43,646.75 L1422.58,648.16 L1422.74,649.57 L1422.89,650.98 L1423.03,652.40 L1423.18,653.83 L1423.33,655.26 L1423.48,656.70 L1423.62,658.15 L1423.77,659.61 L1423.92,661.09 L1424.06,662.58 L1424.21,664.08 L1424.37,665.60 L1424.52,667.14 L1424.68,668.69 L1424.84,670.27 L1425.00,671.87 L1425.17,673.49 L1425.34,675.13 L1425.52,676.80 L1425.70,678.50 L1425.92,680.51 L1426.15,682.54 L1426.38,684.59 L1426.63,686.63 L1426.89,688.66 L1427.16,690.67 L1427.44,692.64 L1427.74,694.55 L1428.05,696.41 L1428.37,698.19 L1428.72,699.88 L1429.08,701.46 L1429.46,702.94 L1429.86,704.28 L1430.27,705.49 L1430.71,706.55 L1431.18,707.44 L1431.66,708.15 L1432.17,708.68 L1432.70,709.00 L1433.65,709.07 L1434.64,708.61 L1435.67,707.68 L1436.70,706.35 L1437.71,704.70 L1438.69,702.79 L1439.60,700.70 L1440.11,699.39 L1440.59,698.04 L1441.04,696.66 L1441.47,695.24 L1441.88,693.79 L1442.27,692.32 L1442.64,690.82 L1442.99,689.29 L1443.33,687.75 L1443.65,686.19 L1443.96,684.61 L1444.26,683.02 L1444.55,681.43 L1444.84,679.82 L1445.12,678.21 L1445.39,676.60 L1445.67,674.99 L1445.94,673.39 L1446.22,671.79 L1446.50,670.20 L1446.77,668.70 L1447.05,667.21 L1447.33,665.73 L1447.61,664.26 L1447.90,662.79 L1448.19,661.32 L1448.49,659.85 L1448.80,658.38 L1449.10,656.91 L1449.42,655.44 L1449.73,653.96 L1450.05,652.47 L1450.38,650.98 L1450.71,649.48 L1451.04,647.96 L1451.38,646.43 L1451.72,644.89 L1452.07,643.33 L1452.42,641.75 L1452.78,640.16 L1453.14,638.54 L1453.50,636.90 L1453.82,635.44 L1454.15,633.96 L1454.48,632.47 L1454.81,630.96 L1455.14,629.44 L1455.48,627.92 L1455.82,626.38 L1456.16,624.84 L1456.50,623.29 L1456.84,621.74 L1457.19,620.19 L1457.54,618.65 L1457.89,617.10 L1458.24,615.56 L1458.59,614.02 L1458.94,612.49 L1459.29,610.97 L1459.65,609.46 L1460.00,607.97 L1460.36,606.49 L1460.71,605.03 L1461.07,603.58 L1461.43,602.16 L1461.78,600.76 L1462.14,599.38 L1462.49,598.02 L1462.85,596.70 L1463.20,595.40 L1463.70,593.62 L1464.20,591.90 L1464.70,590.25 L1465.22,588.65 L1465.74,587.11 L1466.28,585.63 L1466.84,584.22 L1467.41,582.85 L1468.02,581.55 L1468.64,580.31 L1469.30,579.12 L1470.00,577.99 L1470.73,576.92 L1471.50,575.90 L1472.53,574.70 L1473.62,573.58 L1474.78,572.54 L1475.98,571.57 L1477.23,570.67 L1478.52,569.83 L1479.85,569.04 L1481.21,568.30 L1482.60,567.60 L1484.03,566.93 L1485.49,566.30 L1486.97,565.72 L1488.47,565.19 L1490.00,564.72 L1491.56,564.31 L1493.14,563.97 L1494.76,563.70 L1496.40,563.50 L1497.87,563.39 L1499.36,563.33 L1500.87,563.31 L1502.39,563.33 L1503.91,563.36 L1505.44,563.41 L1506.97,563.46 L1508.50,563.51 L1510.01,563.54 L1511.51,563.54 L1513.00,563.50 L1514.49,563.42 L1515.97,563.29 L1517.44,563.13 L1518.91,562.94 L1520.39,562.73 L1521.90,562.49 L1523.43,562.25 L1525.00,561.99 L1526.61,561.74 L1528.27,561.49 L1530.00,561.25 L1531.30,561.09 L1532.64,560.93 L1534.00,560.78 L1535.40,560.64 L1536.83,560.51 L1538.28,560.38 L1539.75,560.26 L1541.25,560.14 L1542.76,560.03 L1544.29,559.92 L1545.84,559.82 L1547.39,559.72 L1548.96,559.62 L1550.53,559.53 L1552.11,559.44 L1553.69,559.35 L1555.28,559.26 L1556.86,559.17 L1558.43,559.09 L1560.00,559.00 L1561.56,558.91 L1563.11,558.82 L1564.65,558.73 L1566.19,558.65 L1567.72,558.56 L1569.24,558.47 L1570.75,558.39 L1572.26,558.30 L1573.77,558.22 L1575.26,558.14 L1576.75,558.06 L1578.24,557.98 L1579.72,557.91 L1581.20,557.84 L1582.68,557.77 L1584.15,557.71 L1585.61,557.65 L1587.08,557.60 L1588.54,557.55 L1590.00,557.50 L1591.46,557.46 L1592.91,557.42 L1594.37,557.39 L1595.83,557.36 L1597.29,557.34 L1598.75,557.31 L1600.22,557.29 L1601.69,557.27 L1603.16,557.24 L1604.64,557.22 L1606.13,557.19 L1607.63,557.16 L1609.13,557.13 L1610.65,557.09 L1612.18,557.05 L1613.71,557.01 L1615.26,556.95 L1616.83,556.89 L1618.41,556.83 L1620.00,556.75 L1621.61,556.67 L1623.24,556.57 L1624.87,556.47 L1626.51,556.36 L1628.14,556.24 L1629.78,556.12 L1631.40,555.99 L1633.02,555.85 L1634.61,555.70 L1636.19,555.55 L1637.75,555.39 L1639.27,555.23 L1640.77,555.06 L1642.22,554.89 L1643.64,554.71 L1645.02,554.52 L1646.35,554.34 L1647.62,554.14 L1648.84,553.95 L1650.00,553.75 L1651.73,553.43 L1653.33,553.09 L1654.83,552.74 L1656.27,552.38 L1657.67,552.01 L1659.07,551.61 L1660.50,551.19 L1662.00,550.75 L1663.46,550.32 L1664.98,549.86 L1666.54,549.36 L1668.13,548.81 L1669.72,548.20 L1671.29,547.53 L1672.82,546.78 L1674.30,545.95 L1675.70,545.03 L1677.00,544.00 L1678.07,542.99 L1679.05,541.91 L1679.95,540.74 L1680.78,539.50 L1681.56,538.19 L1682.28,536.82 L1682.96,535.39 L1683.61,533.90 L1684.23,532.36 L1684.83,530.78 L1685.41,529.16 L1686.00,527.50 L1686.47,526.15 L1686.95,524.79 L1687.43,523.40 L1687.91,522.01 L1688.40,520.60 L1688.89,519.18 L1689.38,517.75 L1689.88,516.32 L1690.37,514.88 L1690.88,513.43 L1691.38,511.99 L1691.89,510.55 L1692.40,509.10 L1692.92,507.67 L1693.43,506.24 L1693.95,504.81 L1694.48,503.40 L1695.00,502.00 L1695.63,500.34 L1696.26,498.71 L1696.91,497.11 L1697.55,495.55 L1698.21,494.03 L1698.88,492.55 L1699.56,491.13 L1700.26,489.76 L1700.97,488.46 L1701.70,487.23 L1702.45,486.07 L1703.21,484.99 L1704.00,484.00 L1705.40,482.51 L1706.86,481.31 L1708.37,480.39 L1709.92,479.79 L1711.50,479.50 L1713.04,479.53 L1714.57,479.86 L1716.09,480.47 L1717.57,481.35 L1719.00,482.50 L1719.97,483.47 L1720.91,484.55 L1721.83,485.73 L1722.72,487.01 L1723.60,488.37 L1724.48,489.80 L1725.35,491.29 L1726.22,492.83 L1727.10,494.40 L1728.00,496.00 L1728.80,497.41 L1729.61,498.82 L1730.42,500.24 L1731.25,501.66 L1732.08,503.08 L1732.91,504.50 L1733.73,505.90 L1734.56,507.30 L1735.37,508.68 L1736.18,510.04 L1736.97,511.39 L1737.74,512.71 L1738.50,514.00 L1739.44,515.61 L1740.35,517.16 L1741.26,518.63 L1742.16,520.02 L1743.07,521.32 L1744.01,522.50 L1744.98,523.57 L1746.00,524.50 L1747.27,525.42 L1748.63,526.20 L1750.08,526.89 L1751.62,527.55 L1753.26,528.23 L1755.00,529.00 L1756.31,529.63 L1757.67,530.32 L1759.06,531.07 L1760.47,531.86 L1761.89,532.69 L1763.30,533.55 L1764.71,534.43 L1766.10,535.33 L1767.45,536.22 L1768.75,537.12 L1770.00,538.00 L1771.36,538.99 L1772.66,539.96 L1773.90,540.90 L1775.11,541.81 L1776.31,542.69 L1777.51,543.55 L1778.73,544.39 L1780.00,545.20 L1781.30,545.97 L1782.66,546.71 L1784.08,547.41 L1785.57,548.07 L1787.12,548.68 L1788.73,549.24 L1790.42,549.73 L1792.17,550.15 L1794.00,550.50 L1795.50,550.72 L1797.03,550.90 L1798.59,551.03 L1800.17,551.14 L1801.76,551.23 L1803.34,551.30 L1804.92,551.37 L1806.47,551.43 L1807.99,551.50 L1809.48,551.59 L1810.91,551.69 L1812.29,551.83 L1813.60,552.00 L1815.36,552.32 L1816.99,552.72 L1818.55,553.20 L1820.07,553.74 L1821.59,554.35 L1823.16,555.00 L1824.80,555.70 L1826.17,556.27 L1827.60,556.86 L1829.09,557.47 L1830.62,558.07 L1832.18,558.68 L1833.76,559.28 L1835.35,559.87 L1836.94,560.44 L1838.52,560.99 L1840.08,561.51 L1841.60,562.00 L1843.33,562.52 L1845.01,562.99 L1846.63,563.42 L1848.22,563.81 L1849.77,564.17 L1851.28,564.50 L1852.78,564.81 L1854.25,565.10 L1855.94,565.42 L1857.61,565.71 L1859.25,565.95 L1860.87,566.13 L1862.45,566.21 L1864.00,566.20 L1865.70,566.05 L1867.38,565.77 L1869.05,565.40 L1870.75,564.97 L1872.50,564.50 L1874.00,564.11 L1875.55,563.70 L1877.13,563.28 L1878.75,562.84 L1880.39,562.36 L1882.04,561.85 L1883.70,561.30 L1885.36,560.70 L1887.02,560.09 L1888.66,559.50 L1890.27,558.97 L1891.86,558.54 L1893.40,558.23 L1894.90,558.10 L1896.64,558.20 L1898.32,558.53 L1899.98,559.03 L1901.63,559.64 L1903.30,560.30 L1904.73,560.84 L1906.20,561.38 L1907.72,561.91 L1909.31,562.44 L1910.96,562.98 L1912.69,563.53 L1914.50,564.10 L1915.96,564.55 L1917.46,565.01 L1919.00,565.47 L1920.56,565.92 L1922.14,566.36 L1923.72,566.78 L1925.29,567.16 L1926.84,567.52 L1928.37,567.83 L1929.86,568.09 L1931.30,568.30 L1932.92,568.47 L1934.48,568.55 L1936.01,568.56 L1937.52,568.49 L1939.04,568.36 L1940.60,568.16 L1942.21,567.91 L1943.90,567.60 L1945.34,567.32 L1946.84,567.00 L1948.38,566.67 L1949.95,566.32 L1951.53,565.95 L1953.13,565.57 L1954.71,565.20 L1956.28,564.82 L1957.81,564.44 L1959.30,564.08 L1960.74,563.73 L1962.10,563.40 L1963.80,563.00 L1965.40,562.65 L1966.94,562.36 L1968.45,562.14 L1969.99,562.00 L1971.59,561.95 L1973.30,562.00 L1974.66,562.11 L1976.10,562.27 L1977.59,562.48 L1979.12,562.73 L1980.68,563.01 L1982.27,563.33 L1983.86,563.67 L1985.45,564.03 L1987.02,564.39 L1988.56,564.77 L1990.06,565.14 L1991.50,565.50 L1993.22,565.93 L1994.85,566.34 L1996.42,566.70 L1997.96,567.02 L1999.48,567.27 L2001.02,567.46 L2002.58,567.57 L2004.20,567.60 L2005.54,567.55 L2006.93,567.45 L2008.36,567.30 L2009.83,567.11 L2011.33,566.87 L2012.86,566.60 L2014.41,566.29 L2015.98,565.96 L2017.57,565.62 L2019.18,565.25 L2020.79,564.88 L2022.40,564.50" stroke="#D95319" stroke-dasharray="20 11.8"/>
</g>
<text x="1193.20" y="748.80" text-anchor="middle" font-size="33" fill="#262626">0</text>
<text x="1367.26" y="748.80" text-anchor="middle" font-size="33" fill="#262626">1</text>
<text x="1541.32" y="748.80" text-anchor="middle" font-size="33" fill="#262626">2</text>
<text x="1715.38" y="748.80" text-anchor="middle" font-size="33" fill="#262626">3</text>
<text x="1889.44" y="748.80" text-anchor="middle" font-size="33" fill="#262626">4</text>
<text x="2063.50" y="748.80" text-anchor="middle" font-size="33" fill="#262626">5</text>
<text x="1183.00" y="703.60" text-anchor="end" font-size="33" fill="#262626">-100</text>
<text x="1183.00" y="635.75" text-anchor="end" font-size="33" fill="#262626">-50</text>
<text x="1183.00" y="567.90" text-anchor="end" font-size="33" fill="#262626">0</text>
<text x="1183.00" y="500.05" text-anchor="end" font-size="33" fill="#262626">50</text>
<text x="1183.00" y="432.20" text-anchor="end" font-size="33" fill="#262626">100</text>
<rect x="1831.6" y="432.5" width="213.0" height="77.5" fill="#fff" stroke="#262626" stroke-width="1.15"/>
<path d="M1840.0,453.5H1900.0" stroke="#0072BD" stroke-width="3.0"/>
<path d="M1840.0,489.4H1860.2M1872.2,489.4H1892.4" stroke="#D95319" stroke-width="3.0"/>
<text x="1906.15" y="460.60" font-size="29.5" fill="#000" textLength="78.50" lengthAdjust="spacingAndGlyphs">Model</text>
<text x="1905.60" y="495.60" font-size="29.5" fill="#000" textLength="65.05" lengthAdjust="spacingAndGlyphs">C<tspan font-size="41.5" dy="6.1">/</tspan><tspan dy="-6.1">20</tspan></text>
<text x="1978.90" y="495.60" font-size="29.5" fill="#000" textLength="57.00" lengthAdjust="spacingAndGlyphs">data</text>
<text x="45" y="29.2" text-anchor="end" font-size="40" fill="#000">(a)</text>
<text x="44.5" y="411.6" text-anchor="end" font-size="40" fill="#000">(b)</text>
<text x="1130" y="29.2" text-anchor="end" font-size="40" fill="#000">(c)</text>
<text x="1130" y="411.6" text-anchor="end" font-size="40" fill="#000">(d)</text>
<text x="480.40" y="790.70" font-size="38.5" fill="#262626" textLength="27.00" lengthAdjust="spacingAndGlyphs">Q</text>
<text x="520.60" y="790.70" font-size="38.5" fill="#262626" textLength="62.70" lengthAdjust="spacingAndGlyphs"><tspan font-size="44" dy="3">[</tspan><tspan dy="-3">Ah</tspan><tspan font-size="44" dy="3">]</tspan></text>
<text x="1575.50" y="790.70" font-size="38.5" fill="#262626" textLength="28.00" lengthAdjust="spacingAndGlyphs">Q</text>
<text x="1616.70" y="790.70" font-size="38.5" fill="#262626" textLength="62.70" lengthAdjust="spacingAndGlyphs"><tspan font-size="44" dy="3">[</tspan><tspan dy="-3">Ah</tspan><tspan font-size="44" dy="3">]</tspan></text>
<text transform="translate(27.50,210.30) rotate(-90)" font-size="38.5" fill="#262626" textLength="24.00" lengthAdjust="spacingAndGlyphs"><tspan font-style="italic">V</tspan></text>
<text transform="translate(27.50,167.00) rotate(-90)" font-size="38.5" fill="#262626" textLength="40.70" lengthAdjust="spacingAndGlyphs"><tspan font-size="44" dy="2.5">[</tspan><tspan dy="-2.5">V</tspan><tspan font-size="44" dy="2.5">]</tspan></text>
<text transform="translate(27.00,680.00) rotate(-90)" font-size="38.5" fill="#262626" textLength="104.80" lengthAdjust="spacingAndGlyphs"><tspan font-style="italic">dV</tspan><tspan font-size="53.8" dy="6.9" font-style="normal">/</tspan><tspan dy="-6.9" font-style="italic">dQ</tspan></text>
<text transform="translate(27.00,559.60) rotate(-90)" font-size="38.5" fill="#262626" textLength="105.70" lengthAdjust="spacingAndGlyphs"><tspan font-size="44" dy="2.5">[</tspan><tspan dy="-2.5">V</tspan><tspan font-size="53.8" dy="6.9" font-style="normal">/</tspan><tspan dy="-6.9">Ah</tspan><tspan font-size="44" dy="2.5">]</tspan></text>
<text transform="translate(1116.50,218.60) rotate(-90)" font-size="38.5" fill="#262626" textLength="17.10" lengthAdjust="spacingAndGlyphs"><tspan font-style="italic">δ</tspan></text>
<text transform="translate(1116.50,186.60) rotate(-90)" font-size="38.5" fill="#262626" textLength="68.35" lengthAdjust="spacingAndGlyphs"><tspan font-size="44" dy="2.5">[</tspan><tspan dy="-2.5" font-style="italic">μm</tspan><tspan font-size="44" dy="2.5">]</tspan></text>
<text transform="translate(1105.50,710.00) rotate(-90)" font-size="38.5" fill="#262626" textLength="125.00" lengthAdjust="spacingAndGlyphs"><tspan font-style="italic">d</tspan><tspan dy="-13" font-size="27">2</tspan><tspan dy="13"><tspan font-style="italic">δ</tspan></tspan><tspan font-size="53.8" dy="6.9" font-style="normal">/</tspan><tspan dy="-6.9" font-style="italic">dQ</tspan><tspan dy="-13" font-size="27">2</tspan></text>
<text transform="translate(1105.50,570.40) rotate(-90)" font-size="38.5" fill="#262626" textLength="146.40" lengthAdjust="spacingAndGlyphs"><tspan font-size="44" dy="2.5">[</tspan><tspan dy="-2.5" font-style="italic">μm</tspan><tspan font-size="53.8" dy="6.9" font-style="normal">/</tspan><tspan dy="-6.9">A</tspan><tspan font-style="italic">h</tspan><tspan dy="-13" font-size="27">2</tspan><tspan dy="15.5" font-size="44">]</tspan></text>
</svg>
</body></html>
